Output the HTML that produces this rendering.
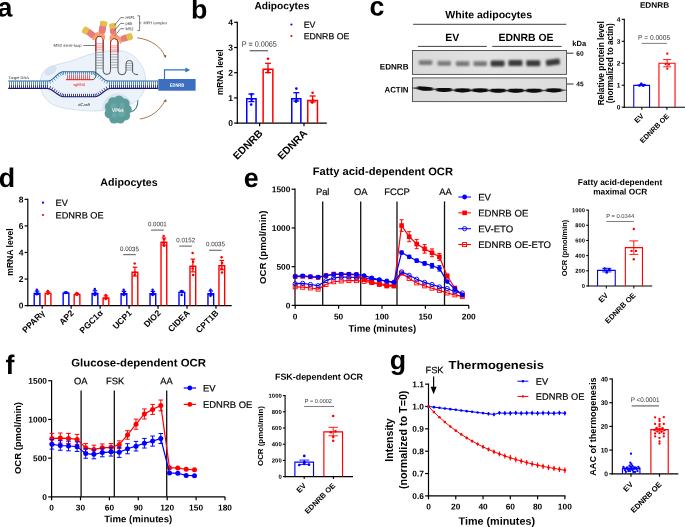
<!DOCTYPE html>
<html lang="en"><head><meta charset="utf-8"><title>Figure</title>
<style>html,body{margin:0;padding:0;background:#fff}svg{display:block}text{font-family:"Liberation Sans",Arial,sans-serif}</style></head>
<body>
<svg width="685" height="527" viewBox="0 0 685 527">
<rect width="685" height="527" fill="#fff"/>
<text x="191.10" y="18.45" font-size="26.8" font-weight="bold" transform="rotate(0.04 191.10 18.45)">b</text>
<text x="281.90" y="9.22" font-size="10.4" font-weight="bold" text-anchor="middle" transform="rotate(0.04 281.90 9.22)" textLength="54.8" lengthAdjust="spacingAndGlyphs">Adipocytes</text>
<line x1="237.30" y1="21.70" x2="237.30" y2="123.70" stroke="#000000" stroke-width="1.2"/>
<line x1="236.70" y1="123.10" x2="326.80" y2="123.10" stroke="#000000" stroke-width="1.2"/>
<line x1="234.10" y1="123.10" x2="237.30" y2="123.10" stroke="#000000" stroke-width="1.2"/>
<text x="232.90" y="126.14" font-size="8.5" font-weight="bold" text-anchor="end" transform="rotate(0.04 232.90 126.14)">0</text>
<line x1="234.10" y1="97.90" x2="237.30" y2="97.90" stroke="#000000" stroke-width="1.2"/>
<text x="232.90" y="100.94" font-size="8.5" font-weight="bold" text-anchor="end" transform="rotate(0.04 232.90 100.94)">1</text>
<line x1="234.10" y1="72.70" x2="237.30" y2="72.70" stroke="#000000" stroke-width="1.2"/>
<text x="232.90" y="75.74" font-size="8.5" font-weight="bold" text-anchor="end" transform="rotate(0.04 232.90 75.74)">2</text>
<line x1="234.10" y1="47.50" x2="237.30" y2="47.50" stroke="#000000" stroke-width="1.2"/>
<text x="232.90" y="50.54" font-size="8.5" font-weight="bold" text-anchor="end" transform="rotate(0.04 232.90 50.54)">3</text>
<line x1="234.10" y1="22.30" x2="237.30" y2="22.30" stroke="#000000" stroke-width="1.2"/>
<text x="232.90" y="25.34" font-size="8.5" font-weight="bold" text-anchor="end" transform="rotate(0.04 232.90 25.34)">4</text>
<line x1="259.60" y1="123.10" x2="259.60" y2="126.30" stroke="#000000" stroke-width="1.2"/>
<line x1="304.00" y1="123.10" x2="304.00" y2="126.30" stroke="#000000" stroke-width="1.2"/>
<text x="223.34" y="72.20" font-size="8.5" text-anchor="middle" transform="rotate(-90 223.34 72.20)" font-weight="bold" textLength="45.5" lengthAdjust="spacingAndGlyphs">mRNA level</text>
<path d="M246.75 123.10V98.75H256.05V123.10" fill="none" stroke="#0000ff" stroke-width="1.5"/>
<path d="M263.15 123.10V69.15H272.85V123.10" fill="none" stroke="#ff0000" stroke-width="1.5"/>
<path d="M291.75 123.10V98.75H300.85V123.10" fill="none" stroke="#0000ff" stroke-width="1.5"/>
<path d="M307.75 123.10V100.55H317.45V123.10" fill="none" stroke="#ff0000" stroke-width="1.5"/>
<line x1="251.40" y1="94.00" x2="251.40" y2="101.60" stroke="#0000ff" stroke-width="1.3"/>
<line x1="248.40" y1="94.00" x2="254.40" y2="94.00" stroke="#0000ff" stroke-width="1.3"/>
<line x1="248.40" y1="101.60" x2="254.40" y2="101.60" stroke="#0000ff" stroke-width="1.3"/>
<line x1="268.00" y1="63.30" x2="268.00" y2="72.60" stroke="#ff0000" stroke-width="1.3"/>
<line x1="265.00" y1="63.30" x2="271.00" y2="63.30" stroke="#ff0000" stroke-width="1.3"/>
<line x1="265.00" y1="72.60" x2="271.00" y2="72.60" stroke="#ff0000" stroke-width="1.3"/>
<line x1="296.30" y1="92.70" x2="296.30" y2="101.00" stroke="#0000ff" stroke-width="1.3"/>
<line x1="293.30" y1="92.70" x2="299.30" y2="92.70" stroke="#0000ff" stroke-width="1.3"/>
<line x1="293.30" y1="101.00" x2="299.30" y2="101.00" stroke="#0000ff" stroke-width="1.3"/>
<line x1="312.60" y1="96.00" x2="312.60" y2="102.00" stroke="#ff0000" stroke-width="1.3"/>
<line x1="309.60" y1="96.00" x2="315.60" y2="96.00" stroke="#ff0000" stroke-width="1.3"/>
<line x1="309.60" y1="102.00" x2="315.60" y2="102.00" stroke="#ff0000" stroke-width="1.3"/>
<circle cx="251.40" cy="94.40" r="1.3" fill="#0000ff" stroke="none" stroke-width="1"/>
<circle cx="251.80" cy="99.40" r="1.3" fill="#0000ff" stroke="none" stroke-width="1"/>
<circle cx="251.20" cy="104.60" r="1.3" fill="#0000ff" stroke="none" stroke-width="1"/>
<circle cx="268.00" cy="58.70" r="1.3" fill="#ff0000" stroke="none" stroke-width="1"/>
<circle cx="268.30" cy="70.00" r="1.3" fill="#ff0000" stroke="none" stroke-width="1"/>
<circle cx="267.80" cy="72.30" r="1.3" fill="#ff0000" stroke="none" stroke-width="1"/>
<circle cx="296.30" cy="88.60" r="1.3" fill="#0000ff" stroke="none" stroke-width="1"/>
<circle cx="296.60" cy="100.20" r="1.3" fill="#0000ff" stroke="none" stroke-width="1"/>
<circle cx="296.00" cy="101.80" r="1.3" fill="#0000ff" stroke="none" stroke-width="1"/>
<circle cx="312.60" cy="92.70" r="1.3" fill="#ff0000" stroke="none" stroke-width="1"/>
<circle cx="312.90" cy="100.30" r="1.3" fill="#ff0000" stroke="none" stroke-width="1"/>
<circle cx="312.20" cy="102.60" r="1.3" fill="#ff0000" stroke="none" stroke-width="1"/>
<text x="259.30" y="46.86" font-size="8.0" text-anchor="middle" transform="rotate(0.04 259.30 46.86)" fill="#333" textLength="35.2" lengthAdjust="spacingAndGlyphs">P = 0.0065</text>
<line x1="249.70" y1="50.70" x2="268.10" y2="50.70" stroke="#6a6a6a" stroke-width="1.3"/>
<circle cx="291.40" cy="24.50" r="1.1" fill="#0000ff" stroke="none" stroke-width="1"/>
<circle cx="291.40" cy="36.00" r="1.1" fill="#ff0000" stroke="none" stroke-width="1"/>
<text x="303.70" y="27.75" font-size="8.8" transform="rotate(0.04 303.70 27.75)" stroke="#000000" stroke-width="0.18">EV</text>
<text x="303.70" y="39.25" font-size="8.8" transform="rotate(0.04 303.70 39.25)" textLength="45.6" lengthAdjust="spacingAndGlyphs" stroke="#000000" stroke-width="0.18">EDNRB OE</text>
<text x="263.40" y="134.00" font-size="10.45" font-weight="bold" text-anchor="end" transform="rotate(-45 263.40 134.00)">EDNRB</text>
<text x="307.90" y="134.00" font-size="10.45" font-weight="bold" text-anchor="end" transform="rotate(-45 307.90 134.00)">EDNRA</text>
<text x="369.60" y="15.55" font-size="26.8" font-weight="bold" transform="rotate(0.04 369.60 15.55)">c</text>
<text x="488.70" y="18.16" font-size="10.5" font-weight="bold" text-anchor="middle" transform="rotate(0.04 488.70 18.16)" textLength="86.8" lengthAdjust="spacingAndGlyphs">White adipocytes</text>
<line x1="413.10" y1="24.30" x2="566.30" y2="24.30" stroke="#2a2a2a" stroke-width="0.9"/>
<text x="452.20" y="40.96" font-size="10.5" font-weight="bold" text-anchor="middle" transform="rotate(0.04 452.20 40.96)">EV</text>
<text x="526.00" y="40.96" font-size="10.5" font-weight="bold" text-anchor="middle" transform="rotate(0.04 526.00 40.96)" textLength="55.0" lengthAdjust="spacingAndGlyphs">EDNRB OE</text>
<line x1="418.00" y1="46.40" x2="486.80" y2="46.40" stroke="#2a2a2a" stroke-width="0.9"/>
<line x1="492.20" y1="46.40" x2="561.60" y2="46.40" stroke="#2a2a2a" stroke-width="0.9"/>
<defs><filter id="bl1" x="-20%" y="-60%" width="140%" height="220%"><feGaussianBlur stdDeviation="1.1 0.9"/></filter><filter id="bl2" x="-20%" y="-60%" width="140%" height="220%"><feGaussianBlur stdDeviation="0.9 0.6"/></filter><linearGradient id="blotbg" x1="0" x2="1" y1="0" y2="0"><stop offset="0" stop-color="#dadada"/><stop offset="0.5" stop-color="#e2e2e2"/><stop offset="1" stop-color="#dcdcdc"/></linearGradient></defs>
<rect x="412.50" y="50.50" width="154.00" height="23.90" fill="url(#blotbg)" stroke="#4a4a4a" stroke-width="0.9"/>
<rect x="412.50" y="77.90" width="154.00" height="23.70" fill="url(#blotbg)" stroke="#4a4a4a" stroke-width="0.9"/>
<g filter="url(#bl1)">
<rect x="418.80" y="59.90" width="13.60" height="4.90" fill="#858585" stroke="none" stroke-width="1" rx="1.2"/>
<rect x="419.40" y="62.60" width="12.40" height="1.90" fill="#6a6a6a" stroke="none" stroke-width="1" rx="0.8"/>
<rect x="437.40" y="60.70" width="13.60" height="4.90" fill="#858585" stroke="none" stroke-width="1" rx="1.2"/>
<rect x="438.00" y="63.40" width="12.40" height="1.90" fill="#6a6a6a" stroke="none" stroke-width="1" rx="0.8"/>
<rect x="455.80" y="61.10" width="13.60" height="4.90" fill="#858585" stroke="none" stroke-width="1" rx="1.2"/>
<rect x="456.40" y="63.80" width="12.40" height="1.90" fill="#6a6a6a" stroke="none" stroke-width="1" rx="0.8"/>
<rect x="473.40" y="61.10" width="13.60" height="4.90" fill="#858585" stroke="none" stroke-width="1" rx="1.2"/>
<rect x="474.00" y="63.80" width="12.40" height="1.90" fill="#6a6a6a" stroke="none" stroke-width="1" rx="0.8"/>
<rect x="490.60" y="60.50" width="14.00" height="6.00" fill="#3a3a3a" stroke="none" stroke-width="1" rx="1.4"/>
<rect x="508.40" y="60.10" width="14.00" height="6.00" fill="#3a3a3a" stroke="none" stroke-width="1" rx="1.4"/>
<rect x="526.30" y="60.20" width="14.00" height="6.00" fill="#3a3a3a" stroke="none" stroke-width="1" rx="1.4"/>
<rect x="545.90" y="59.30" width="14.00" height="6.00" fill="#3a3a3a" stroke="none" stroke-width="1" rx="1.4" transform="rotate(-8 552.9 62.2)"/>
</g>
<g filter="url(#bl2)">
<polyline fill="none" stroke="#4a4a4a" stroke-width="1.3" stroke-linejoin="round" points="412.80,88.00 424.90,88.70 444.00,89.90 462.60,90.40 480.20,90.40 498.00,90.70 515.90,90.70 534.00,90.70 553.90,90.40 566.00,90.20"/>
<rect x="416.9" y="86.8" width="16" height="3.4" rx="1.7" fill="#0a0a0a" transform="rotate(5 424.9 88.5)"/>
<ellipse cx="424.9" cy="88.8" rx="5.5" ry="2.0" fill="#0a0a0a"/>
<rect x="436.0" y="88.0" width="16" height="3.4" rx="1.7" fill="#0a0a0a"/>
<ellipse cx="444.0" cy="90.0" rx="5.5" ry="2.0" fill="#0a0a0a"/>
<rect x="454.6" y="88.5" width="16" height="3.4" rx="1.7" fill="#0a0a0a"/>
<ellipse cx="462.6" cy="90.5" rx="5.5" ry="2.0" fill="#0a0a0a"/>
<rect x="472.2" y="88.5" width="16" height="3.4" rx="1.7" fill="#0a0a0a"/>
<ellipse cx="480.2" cy="90.5" rx="5.5" ry="2.0" fill="#0a0a0a"/>
<rect x="490.0" y="88.8" width="16" height="3.4" rx="1.7" fill="#0a0a0a"/>
<ellipse cx="498.0" cy="90.8" rx="5.5" ry="2.0" fill="#0a0a0a"/>
<rect x="507.9" y="88.8" width="16" height="3.4" rx="1.7" fill="#0a0a0a"/>
<ellipse cx="515.9" cy="90.8" rx="5.5" ry="2.0" fill="#0a0a0a"/>
<rect x="526.0" y="88.8" width="16" height="3.4" rx="1.7" fill="#0a0a0a"/>
<ellipse cx="534.0" cy="90.8" rx="5.5" ry="2.0" fill="#0a0a0a"/>
<rect x="545.9" y="88.5" width="16" height="3.4" rx="1.7" fill="#0a0a0a"/>
<ellipse cx="553.9" cy="90.5" rx="5.5" ry="2.0" fill="#0a0a0a"/>
</g>
<text x="408.50" y="69.50" font-size="8.1" font-weight="bold" text-anchor="end" transform="rotate(0.04 408.50 69.50)" textLength="28.7" lengthAdjust="spacingAndGlyphs">EDNRB</text>
<text x="408.50" y="92.50" font-size="8.1" font-weight="bold" text-anchor="end" transform="rotate(0.04 408.50 92.50)" textLength="24.0" lengthAdjust="spacingAndGlyphs">ACTIN</text>
<text x="572.30" y="45.92" font-size="7.6" font-weight="bold" transform="rotate(0.04 572.30 45.92)" textLength="13.8" lengthAdjust="spacingAndGlyphs">kDa</text>
<line x1="567.00" y1="53.20" x2="573.50" y2="53.20" stroke="#1a1a1a" stroke-width="0.9"/>
<line x1="567.00" y1="84.00" x2="573.50" y2="84.00" stroke="#1a1a1a" stroke-width="0.9"/>
<text x="576.30" y="55.76" font-size="6.6" font-weight="bold" transform="rotate(0.04 576.30 55.76)">60</text>
<text x="576.30" y="86.36" font-size="6.6" font-weight="bold" transform="rotate(0.04 576.30 86.36)">45</text>
<text x="654.50" y="7.68" font-size="7.9" font-weight="bold" text-anchor="middle" transform="rotate(0.04 654.50 7.68)" textLength="29.2" lengthAdjust="spacingAndGlyphs">EDNRB</text>
<line x1="624.30" y1="18.77" x2="624.30" y2="107.75" stroke="#000000" stroke-width="1.1"/>
<line x1="623.75" y1="107.20" x2="685.00" y2="107.20" stroke="#000000" stroke-width="1.1"/>
<line x1="621.70" y1="107.20" x2="624.30" y2="107.20" stroke="#000000" stroke-width="1.1"/>
<text x="620.50" y="109.56" font-size="6.6" font-weight="bold" text-anchor="end" transform="rotate(0.04 620.50 109.56)">0</text>
<line x1="621.70" y1="85.23" x2="624.30" y2="85.23" stroke="#000000" stroke-width="1.1"/>
<text x="620.50" y="87.59" font-size="6.6" font-weight="bold" text-anchor="end" transform="rotate(0.04 620.50 87.59)">1</text>
<line x1="621.70" y1="63.26" x2="624.30" y2="63.26" stroke="#000000" stroke-width="1.1"/>
<text x="620.50" y="65.62" font-size="6.6" font-weight="bold" text-anchor="end" transform="rotate(0.04 620.50 65.62)">2</text>
<line x1="621.70" y1="41.29" x2="624.30" y2="41.29" stroke="#000000" stroke-width="1.1"/>
<text x="620.50" y="43.65" font-size="6.6" font-weight="bold" text-anchor="end" transform="rotate(0.04 620.50 43.65)">3</text>
<line x1="621.70" y1="19.32" x2="624.30" y2="19.32" stroke="#000000" stroke-width="1.1"/>
<text x="620.50" y="21.68" font-size="6.6" font-weight="bold" text-anchor="end" transform="rotate(0.04 620.50 21.68)">4</text>
<line x1="641.80" y1="107.20" x2="641.80" y2="109.70" stroke="#000000" stroke-width="1.1"/>
<line x1="666.90" y1="107.20" x2="666.90" y2="109.70" stroke="#000000" stroke-width="1.1"/>
<text x="604.04" y="63.20" font-size="8.5" text-anchor="middle" transform="rotate(-90 604.04 63.20)" font-weight="bold" textLength="84.0" lengthAdjust="spacingAndGlyphs">Relative protein level</text>
<text x="613.44" y="63.20" font-size="8.5" text-anchor="middle" transform="rotate(-90 613.44 63.20)" font-weight="bold" textLength="80.0" lengthAdjust="spacingAndGlyphs">(normalized to actin)</text>
<path d="M633.75 107.20V85.35H649.55V107.20" fill="none" stroke="#0000ff" stroke-width="1.1"/>
<path d="M658.95 107.20V63.25H675.05V107.20" fill="none" stroke="#ff0000" stroke-width="1.1"/>
<line x1="667.20" y1="59.60" x2="667.20" y2="66.80" stroke="#ff0000" stroke-width="0.9"/>
<line x1="663.20" y1="59.60" x2="671.20" y2="59.60" stroke="#ff0000" stroke-width="0.9"/>
<line x1="663.20" y1="66.80" x2="671.20" y2="66.80" stroke="#ff0000" stroke-width="0.9"/>
<line x1="637.60" y1="85.00" x2="646.00" y2="85.00" stroke="#0000ff" stroke-width="0.9"/>
<circle cx="639.50" cy="85.60" r="1.45" fill="#0000ff" stroke="none" stroke-width="1"/>
<circle cx="641.30" cy="83.90" r="1.45" fill="#0000ff" stroke="none" stroke-width="1"/>
<circle cx="643.00" cy="85.60" r="1.45" fill="#0000ff" stroke="none" stroke-width="1"/>
<circle cx="644.30" cy="85.10" r="1.45" fill="#0000ff" stroke="none" stroke-width="1"/>
<circle cx="667.30" cy="53.70" r="1.15" fill="#ff0000" stroke="none" stroke-width="1"/>
<circle cx="665.60" cy="64.10" r="1.15" fill="#ff0000" stroke="none" stroke-width="1"/>
<circle cx="669.00" cy="64.50" r="1.15" fill="#ff0000" stroke="none" stroke-width="1"/>
<circle cx="667.30" cy="68.70" r="1.15" fill="#ff0000" stroke="none" stroke-width="1"/>
<text x="654.10" y="39.80" font-size="6.7" text-anchor="middle" transform="rotate(0.04 654.10 39.80)" fill="#333" textLength="32.1" lengthAdjust="spacingAndGlyphs">P = 0.0005</text>
<line x1="641.60" y1="43.40" x2="667.00" y2="43.40" stroke="#3a3a3a" stroke-width="0.65"/>
<text x="644.30" y="116.60" font-size="7.4" font-weight="bold" text-anchor="end" transform="rotate(-45 644.30 116.60)">EV</text>
<text x="669.70" y="116.60" font-size="7.2" font-weight="bold" text-anchor="end" transform="rotate(-45 669.70 116.60)">EDNRB OE</text>
<text x="-1.20" y="186.90" font-size="26.8" font-weight="bold" transform="rotate(0.04 -1.20 186.90)">d</text>
<text x="129.00" y="185.89" font-size="10.6" font-weight="bold" text-anchor="middle" transform="rotate(0.04 129.00 185.89)" textLength="57.3" lengthAdjust="spacingAndGlyphs">Adipocytes</text>
<line x1="27.80" y1="198.76" x2="27.80" y2="306.20" stroke="#000000" stroke-width="1.2"/>
<line x1="27.20" y1="305.60" x2="231.70" y2="305.60" stroke="#000000" stroke-width="1.2"/>
<line x1="24.60" y1="305.60" x2="27.80" y2="305.60" stroke="#000000" stroke-width="1.2"/>
<text x="23.40" y="308.64" font-size="8.5" font-weight="bold" text-anchor="end" transform="rotate(0.04 23.40 308.64)">0</text>
<line x1="24.60" y1="279.04" x2="27.80" y2="279.04" stroke="#000000" stroke-width="1.2"/>
<text x="23.40" y="282.08" font-size="8.5" font-weight="bold" text-anchor="end" transform="rotate(0.04 23.40 282.08)">2</text>
<line x1="24.60" y1="252.48" x2="27.80" y2="252.48" stroke="#000000" stroke-width="1.2"/>
<text x="23.40" y="255.52" font-size="8.5" font-weight="bold" text-anchor="end" transform="rotate(0.04 23.40 255.52)">4</text>
<line x1="24.60" y1="225.92" x2="27.80" y2="225.92" stroke="#000000" stroke-width="1.2"/>
<text x="23.40" y="228.96" font-size="8.5" font-weight="bold" text-anchor="end" transform="rotate(0.04 23.40 228.96)">6</text>
<line x1="24.60" y1="199.36" x2="27.80" y2="199.36" stroke="#000000" stroke-width="1.2"/>
<text x="23.40" y="202.40" font-size="8.5" font-weight="bold" text-anchor="end" transform="rotate(0.04 23.40 202.40)">8</text>
<text x="13.28" y="252.00" font-size="8.6" text-anchor="middle" transform="rotate(-90 13.28 252.00)" font-weight="bold" textLength="47.5" lengthAdjust="spacingAndGlyphs">mRNA level</text>
<circle cx="43.00" cy="202.70" r="1.1" fill="#0000ff" stroke="none" stroke-width="1"/>
<circle cx="43.00" cy="215.00" r="1.1" fill="#ff0000" stroke="none" stroke-width="1"/>
<text x="55.60" y="206.09" font-size="9.2" transform="rotate(0.04 55.60 206.09)" stroke="#000000" stroke-width="0.18">EV</text>
<text x="55.60" y="218.39" font-size="9.2" transform="rotate(0.04 55.60 218.39)" textLength="48.0" lengthAdjust="spacingAndGlyphs" stroke="#000000" stroke-width="0.18">EDNRB OE</text>
<line x1="42.20" y1="305.60" x2="42.20" y2="308.80" stroke="#000000" stroke-width="1.2"/>
<path d="M34.20 305.60V293.42H39.90V305.60" fill="none" stroke="#0000ff" stroke-width="1.4"/>
<path d="M45.20 305.60V293.42H50.90V305.60" fill="none" stroke="#ff0000" stroke-width="1.4"/>
<line x1="37.05" y1="291.12" x2="37.05" y2="294.31" stroke="#0000ff" stroke-width="1.2"/>
<line x1="34.75" y1="291.12" x2="39.35" y2="291.12" stroke="#0000ff" stroke-width="1.2"/>
<line x1="34.75" y1="294.31" x2="39.35" y2="294.31" stroke="#0000ff" stroke-width="1.2"/>
<line x1="48.05" y1="291.92" x2="48.05" y2="293.52" stroke="#ff0000" stroke-width="1.2"/>
<line x1="45.75" y1="291.92" x2="50.35" y2="291.92" stroke="#ff0000" stroke-width="1.2"/>
<line x1="45.75" y1="293.52" x2="50.35" y2="293.52" stroke="#ff0000" stroke-width="1.2"/>
<circle cx="36.80" cy="289.66" r="1.25" fill="#0000ff" stroke="none" stroke-width="1"/>
<circle cx="37.30" cy="292.98" r="1.25" fill="#0000ff" stroke="none" stroke-width="1"/>
<circle cx="36.80" cy="294.31" r="1.25" fill="#0000ff" stroke="none" stroke-width="1"/>
<circle cx="47.80" cy="290.99" r="1.25" fill="#ff0000" stroke="none" stroke-width="1"/>
<circle cx="48.30" cy="292.98" r="1.25" fill="#ff0000" stroke="none" stroke-width="1"/>
<circle cx="47.80" cy="293.65" r="1.25" fill="#ff0000" stroke="none" stroke-width="1"/>
<text x="45.50" y="313.60" font-size="8.6" font-weight="bold" text-anchor="end" transform="rotate(-45 45.50 313.60)">PPARγ</text>
<line x1="71.16" y1="305.60" x2="71.16" y2="308.80" stroke="#000000" stroke-width="1.2"/>
<path d="M63.16 305.60V293.29H68.86V305.60" fill="none" stroke="#0000ff" stroke-width="1.4"/>
<path d="M74.16 305.60V294.61H79.86V305.60" fill="none" stroke="#ff0000" stroke-width="1.4"/>
<line x1="66.01" y1="292.19" x2="66.01" y2="292.98" stroke="#0000ff" stroke-width="1.2"/>
<line x1="63.71" y1="292.19" x2="68.31" y2="292.19" stroke="#0000ff" stroke-width="1.2"/>
<line x1="63.71" y1="292.98" x2="68.31" y2="292.98" stroke="#0000ff" stroke-width="1.2"/>
<line x1="77.01" y1="293.38" x2="77.01" y2="294.44" stroke="#ff0000" stroke-width="1.2"/>
<line x1="74.71" y1="293.38" x2="79.31" y2="293.38" stroke="#ff0000" stroke-width="1.2"/>
<line x1="74.71" y1="294.44" x2="79.31" y2="294.44" stroke="#ff0000" stroke-width="1.2"/>
<circle cx="65.76" cy="292.32" r="1.25" fill="#0000ff" stroke="none" stroke-width="1"/>
<circle cx="66.26" cy="292.72" r="1.25" fill="#0000ff" stroke="none" stroke-width="1"/>
<circle cx="65.76" cy="292.98" r="1.25" fill="#0000ff" stroke="none" stroke-width="1"/>
<circle cx="76.76" cy="292.98" r="1.25" fill="#ff0000" stroke="none" stroke-width="1"/>
<circle cx="77.26" cy="293.91" r="1.25" fill="#ff0000" stroke="none" stroke-width="1"/>
<circle cx="76.76" cy="294.71" r="1.25" fill="#ff0000" stroke="none" stroke-width="1"/>
<text x="74.46" y="313.60" font-size="8.6" font-weight="bold" text-anchor="end" transform="rotate(-45 74.46 313.60)">AP2</text>
<line x1="100.12" y1="305.60" x2="100.12" y2="308.80" stroke="#000000" stroke-width="1.2"/>
<path d="M92.12 305.60V293.42H97.82V305.60" fill="none" stroke="#0000ff" stroke-width="1.4"/>
<path d="M103.12 305.60V297.93H108.82V305.60" fill="none" stroke="#ff0000" stroke-width="1.4"/>
<line x1="94.97" y1="290.73" x2="94.97" y2="294.71" stroke="#0000ff" stroke-width="1.2"/>
<line x1="92.67" y1="290.73" x2="97.27" y2="290.73" stroke="#0000ff" stroke-width="1.2"/>
<line x1="92.67" y1="294.71" x2="97.27" y2="294.71" stroke="#0000ff" stroke-width="1.2"/>
<line x1="105.97" y1="295.91" x2="105.97" y2="298.56" stroke="#ff0000" stroke-width="1.2"/>
<line x1="103.67" y1="295.91" x2="108.27" y2="295.91" stroke="#ff0000" stroke-width="1.2"/>
<line x1="103.67" y1="298.56" x2="108.27" y2="298.56" stroke="#ff0000" stroke-width="1.2"/>
<circle cx="94.72" cy="289.00" r="1.25" fill="#0000ff" stroke="none" stroke-width="1"/>
<circle cx="95.22" cy="292.98" r="1.25" fill="#0000ff" stroke="none" stroke-width="1"/>
<circle cx="94.72" cy="294.98" r="1.25" fill="#0000ff" stroke="none" stroke-width="1"/>
<circle cx="105.72" cy="294.98" r="1.25" fill="#ff0000" stroke="none" stroke-width="1"/>
<circle cx="106.22" cy="297.63" r="1.25" fill="#ff0000" stroke="none" stroke-width="1"/>
<circle cx="105.72" cy="298.96" r="1.25" fill="#ff0000" stroke="none" stroke-width="1"/>
<text x="103.42" y="313.60" font-size="8.6" font-weight="bold" text-anchor="end" transform="rotate(-45 103.42 313.60)">PGC1α</text>
<line x1="129.08" y1="305.60" x2="129.08" y2="308.80" stroke="#000000" stroke-width="1.2"/>
<path d="M121.08 305.60V293.68H126.78V305.60" fill="none" stroke="#0000ff" stroke-width="1.4"/>
<path d="M132.08 305.60V272.30H137.78V305.60" fill="none" stroke="#ff0000" stroke-width="1.4"/>
<line x1="123.93" y1="291.39" x2="123.93" y2="294.58" stroke="#0000ff" stroke-width="1.2"/>
<line x1="121.63" y1="291.39" x2="126.23" y2="291.39" stroke="#0000ff" stroke-width="1.2"/>
<line x1="121.63" y1="294.58" x2="126.23" y2="294.58" stroke="#0000ff" stroke-width="1.2"/>
<line x1="134.93" y1="267.22" x2="134.93" y2="275.99" stroke="#ff0000" stroke-width="1.2"/>
<line x1="132.63" y1="267.22" x2="137.23" y2="267.22" stroke="#ff0000" stroke-width="1.2"/>
<line x1="132.63" y1="275.99" x2="137.23" y2="275.99" stroke="#ff0000" stroke-width="1.2"/>
<circle cx="123.68" cy="289.66" r="1.25" fill="#0000ff" stroke="none" stroke-width="1"/>
<circle cx="124.18" cy="292.98" r="1.25" fill="#0000ff" stroke="none" stroke-width="1"/>
<circle cx="123.68" cy="294.98" r="1.25" fill="#0000ff" stroke="none" stroke-width="1"/>
<circle cx="134.68" cy="263.50" r="1.25" fill="#ff0000" stroke="none" stroke-width="1"/>
<circle cx="135.18" cy="272.40" r="1.25" fill="#ff0000" stroke="none" stroke-width="1"/>
<circle cx="134.68" cy="275.06" r="1.25" fill="#ff0000" stroke="none" stroke-width="1"/>
<text x="129.48" y="251.13" font-size="6.5" text-anchor="middle" transform="rotate(0.04 129.48 251.13)" fill="#2a2a2a" textLength="18.8" lengthAdjust="spacingAndGlyphs">0.0035</text>
<line x1="123.13" y1="254.60" x2="135.83" y2="254.60" stroke="#757575" stroke-width="1.2"/>
<text x="132.38" y="313.60" font-size="8.6" font-weight="bold" text-anchor="end" transform="rotate(-45 132.38 313.60)">UCP1</text>
<line x1="158.04" y1="305.60" x2="158.04" y2="308.80" stroke="#000000" stroke-width="1.2"/>
<path d="M150.04 305.60V293.68H155.74V305.60" fill="none" stroke="#0000ff" stroke-width="1.4"/>
<path d="M161.04 305.60V242.29H166.74V305.60" fill="none" stroke="#ff0000" stroke-width="1.4"/>
<line x1="152.89" y1="291.39" x2="152.89" y2="294.58" stroke="#0000ff" stroke-width="1.2"/>
<line x1="150.59" y1="291.39" x2="155.19" y2="291.39" stroke="#0000ff" stroke-width="1.2"/>
<line x1="150.59" y1="294.58" x2="155.19" y2="294.58" stroke="#0000ff" stroke-width="1.2"/>
<line x1="163.89" y1="238.00" x2="163.89" y2="245.18" stroke="#ff0000" stroke-width="1.2"/>
<line x1="161.59" y1="238.00" x2="166.19" y2="238.00" stroke="#ff0000" stroke-width="1.2"/>
<line x1="161.59" y1="245.18" x2="166.19" y2="245.18" stroke="#ff0000" stroke-width="1.2"/>
<circle cx="152.64" cy="289.66" r="1.25" fill="#0000ff" stroke="none" stroke-width="1"/>
<circle cx="153.14" cy="292.98" r="1.25" fill="#0000ff" stroke="none" stroke-width="1"/>
<circle cx="152.64" cy="294.98" r="1.25" fill="#0000ff" stroke="none" stroke-width="1"/>
<circle cx="163.64" cy="235.88" r="1.25" fill="#ff0000" stroke="none" stroke-width="1"/>
<circle cx="164.14" cy="239.20" r="1.25" fill="#ff0000" stroke="none" stroke-width="1"/>
<circle cx="163.64" cy="243.18" r="1.25" fill="#ff0000" stroke="none" stroke-width="1"/>
<circle cx="164.14" cy="245.84" r="1.25" fill="#ff0000" stroke="none" stroke-width="1"/>
<text x="157.34" y="226.23" font-size="6.5" text-anchor="middle" transform="rotate(0.04 157.34 226.23)" fill="#2a2a2a" textLength="18.8" lengthAdjust="spacingAndGlyphs">0.0001</text>
<line x1="151.04" y1="230.10" x2="163.74" y2="230.10" stroke="#757575" stroke-width="1.2"/>
<text x="161.34" y="313.60" font-size="8.6" font-weight="bold" text-anchor="end" transform="rotate(-45 161.34 313.60)">DIO2</text>
<line x1="187.00" y1="305.60" x2="187.00" y2="308.80" stroke="#000000" stroke-width="1.2"/>
<path d="M179.00 305.60V292.36H184.70V305.60" fill="none" stroke="#0000ff" stroke-width="1.4"/>
<path d="M190.00 305.60V266.19H195.70V305.60" fill="none" stroke="#ff0000" stroke-width="1.4"/>
<line x1="181.85" y1="290.99" x2="181.85" y2="292.32" stroke="#0000ff" stroke-width="1.2"/>
<line x1="179.55" y1="290.99" x2="184.15" y2="290.99" stroke="#0000ff" stroke-width="1.2"/>
<line x1="179.55" y1="292.32" x2="184.15" y2="292.32" stroke="#0000ff" stroke-width="1.2"/>
<line x1="192.85" y1="259.12" x2="192.85" y2="271.87" stroke="#ff0000" stroke-width="1.2"/>
<line x1="190.55" y1="259.12" x2="195.15" y2="259.12" stroke="#ff0000" stroke-width="1.2"/>
<line x1="190.55" y1="271.87" x2="195.15" y2="271.87" stroke="#ff0000" stroke-width="1.2"/>
<circle cx="181.60" cy="290.99" r="1.25" fill="#0000ff" stroke="none" stroke-width="1"/>
<circle cx="182.10" cy="292.32" r="1.25" fill="#0000ff" stroke="none" stroke-width="1"/>
<circle cx="181.60" cy="294.98" r="1.25" fill="#0000ff" stroke="none" stroke-width="1"/>
<circle cx="192.60" cy="252.88" r="1.25" fill="#ff0000" stroke="none" stroke-width="1"/>
<circle cx="193.10" cy="261.78" r="1.25" fill="#ff0000" stroke="none" stroke-width="1"/>
<circle cx="192.60" cy="268.42" r="1.25" fill="#ff0000" stroke="none" stroke-width="1"/>
<circle cx="193.10" cy="275.06" r="1.25" fill="#ff0000" stroke="none" stroke-width="1"/>
<text x="185.70" y="242.33" font-size="6.5" text-anchor="middle" transform="rotate(0.04 185.70 242.33)" fill="#2a2a2a" textLength="18.8" lengthAdjust="spacingAndGlyphs">0.0152</text>
<line x1="179.20" y1="246.10" x2="191.90" y2="246.10" stroke="#757575" stroke-width="1.2"/>
<text x="190.30" y="313.60" font-size="8.6" font-weight="bold" text-anchor="end" transform="rotate(-45 190.30 313.60)">CIDEA</text>
<line x1="215.96" y1="305.60" x2="215.96" y2="308.80" stroke="#000000" stroke-width="1.2"/>
<path d="M207.96 305.60V293.68H213.66V305.60" fill="none" stroke="#0000ff" stroke-width="1.4"/>
<path d="M218.96 305.60V265.80H224.66V305.60" fill="none" stroke="#ff0000" stroke-width="1.4"/>
<line x1="210.81" y1="290.99" x2="210.81" y2="294.98" stroke="#0000ff" stroke-width="1.2"/>
<line x1="208.51" y1="290.99" x2="213.11" y2="290.99" stroke="#0000ff" stroke-width="1.2"/>
<line x1="208.51" y1="294.98" x2="213.11" y2="294.98" stroke="#0000ff" stroke-width="1.2"/>
<line x1="221.81" y1="260.45" x2="221.81" y2="269.74" stroke="#ff0000" stroke-width="1.2"/>
<line x1="219.51" y1="260.45" x2="224.11" y2="260.45" stroke="#ff0000" stroke-width="1.2"/>
<line x1="219.51" y1="269.74" x2="224.11" y2="269.74" stroke="#ff0000" stroke-width="1.2"/>
<circle cx="210.56" cy="289.66" r="1.25" fill="#0000ff" stroke="none" stroke-width="1"/>
<circle cx="211.06" cy="293.65" r="1.25" fill="#0000ff" stroke="none" stroke-width="1"/>
<circle cx="210.56" cy="295.64" r="1.25" fill="#0000ff" stroke="none" stroke-width="1"/>
<circle cx="221.56" cy="257.13" r="1.25" fill="#ff0000" stroke="none" stroke-width="1"/>
<circle cx="222.06" cy="263.10" r="1.25" fill="#ff0000" stroke="none" stroke-width="1"/>
<circle cx="221.56" cy="268.42" r="1.25" fill="#ff0000" stroke="none" stroke-width="1"/>
<circle cx="222.06" cy="272.40" r="1.25" fill="#ff0000" stroke="none" stroke-width="1"/>
<text x="215.46" y="246.33" font-size="6.5" text-anchor="middle" transform="rotate(0.04 215.46 246.33)" fill="#2a2a2a" textLength="18.8" lengthAdjust="spacingAndGlyphs">0.0035</text>
<line x1="209.11" y1="250.30" x2="221.81" y2="250.30" stroke="#757575" stroke-width="1.2"/>
<text x="219.26" y="313.60" font-size="8.6" font-weight="bold" text-anchor="end" transform="rotate(-45 219.26 313.60)">CPT1B</text>
<text x="243.80" y="187.05" font-size="26.8" font-weight="bold" transform="rotate(0.04 243.80 187.05)">e</text>
<text x="382.90" y="175.14" font-size="11.0" font-weight="bold" text-anchor="middle" transform="rotate(0.04 382.90 175.14)" textLength="140.2" lengthAdjust="spacingAndGlyphs">Fatty acid-dependent OCR</text>
<line x1="295.00" y1="188.61" x2="295.00" y2="306.00" stroke="#000000" stroke-width="1.2"/>
<line x1="294.40" y1="305.40" x2="469.00" y2="305.40" stroke="#000000" stroke-width="1.2"/>
<line x1="291.60" y1="305.40" x2="295.00" y2="305.40" stroke="#000000" stroke-width="1.2"/>
<text x="290.40" y="308.41" font-size="8.4" font-weight="bold" text-anchor="end" transform="rotate(0.04 290.40 308.41)">0</text>
<line x1="291.60" y1="266.67" x2="295.00" y2="266.67" stroke="#000000" stroke-width="1.2"/>
<text x="290.40" y="269.68" font-size="8.4" font-weight="bold" text-anchor="end" transform="rotate(0.04 290.40 269.68)">500</text>
<line x1="291.60" y1="227.94" x2="295.00" y2="227.94" stroke="#000000" stroke-width="1.2"/>
<text x="290.40" y="230.95" font-size="8.4" font-weight="bold" text-anchor="end" transform="rotate(0.04 290.40 230.95)">1000</text>
<line x1="291.60" y1="189.21" x2="295.00" y2="189.21" stroke="#000000" stroke-width="1.2"/>
<text x="290.40" y="192.22" font-size="8.4" font-weight="bold" text-anchor="end" transform="rotate(0.04 290.40 192.22)">1500</text>
<line x1="295.20" y1="305.40" x2="295.20" y2="308.80" stroke="#000000" stroke-width="1.2"/>
<text x="295.20" y="319.41" font-size="8.4" font-weight="bold" text-anchor="middle" transform="rotate(0.04 295.20 319.41)">0</text>
<line x1="338.60" y1="305.40" x2="338.60" y2="308.80" stroke="#000000" stroke-width="1.2"/>
<text x="338.60" y="319.41" font-size="8.4" font-weight="bold" text-anchor="middle" transform="rotate(0.04 338.60 319.41)">50</text>
<line x1="382.00" y1="305.40" x2="382.00" y2="308.80" stroke="#000000" stroke-width="1.2"/>
<text x="382.00" y="319.41" font-size="8.4" font-weight="bold" text-anchor="middle" transform="rotate(0.04 382.00 319.41)">100</text>
<line x1="425.40" y1="305.40" x2="425.40" y2="308.80" stroke="#000000" stroke-width="1.2"/>
<text x="425.40" y="319.41" font-size="8.4" font-weight="bold" text-anchor="middle" transform="rotate(0.04 425.40 319.41)">150</text>
<line x1="468.80" y1="305.40" x2="468.80" y2="308.80" stroke="#000000" stroke-width="1.2"/>
<text x="468.80" y="319.41" font-size="8.4" font-weight="bold" text-anchor="middle" transform="rotate(0.04 468.80 319.41)">200</text>
<text x="265.64" y="247.30" font-size="9.6" text-anchor="middle" transform="rotate(-90 265.64 247.30)" font-weight="bold" textLength="73.5" lengthAdjust="spacingAndGlyphs">OCR (pmol/min)</text>
<text x="382.30" y="331.74" font-size="9.6" font-weight="bold" text-anchor="middle" transform="rotate(0.04 382.30 331.74)" textLength="67.7" lengthAdjust="spacingAndGlyphs">Time (minutes)</text>
<line x1="322.70" y1="201.40" x2="322.70" y2="305.40" stroke="#111" stroke-width="1.3"/>
<text x="322.70" y="195.07" font-size="9.4" text-anchor="middle" transform="rotate(0.04 322.70 195.07)" fill="#000" stroke="#000" stroke-width="0.18">Pal</text>
<line x1="360.70" y1="201.40" x2="360.70" y2="305.40" stroke="#111" stroke-width="1.3"/>
<text x="360.70" y="195.07" font-size="9.4" text-anchor="middle" transform="rotate(0.04 360.70 195.07)" fill="#000" stroke="#000" stroke-width="0.18">OA</text>
<line x1="397.00" y1="201.40" x2="397.00" y2="305.40" stroke="#111" stroke-width="1.3"/>
<text x="397.00" y="195.07" font-size="9.4" text-anchor="middle" transform="rotate(0.04 397.00 195.07)" fill="#000" stroke="#000" stroke-width="0.18">FCCP</text>
<line x1="444.50" y1="201.40" x2="444.50" y2="305.40" stroke="#111" stroke-width="1.3"/>
<text x="445.50" y="195.07" font-size="9.4" text-anchor="middle" transform="rotate(0.04 445.50 195.07)" fill="#000" stroke="#000" stroke-width="0.18">AA</text>
<polyline fill="none" stroke="#ff0000" stroke-width="1.2" stroke-linejoin="round" points="295.20,286.81 302.70,287.20 310.40,287.97 318.10,289.13 326.00,284.49 333.70,281.77 341.20,281.00 348.90,280.61 356.40,280.61 364.10,281.39 371.80,282.55 379.30,283.71 386.80,284.87 394.00,285.65 401.60,273.18 409.20,278.44 416.70,282.94 424.60,285.88 432.00,288.20 439.40,290.37 447.20,293.01 454.90,294.87 462.30,296.41"/>
<rect x="293.20" y="284.81" width="4.00" height="4.00" fill="none" stroke="#ff0000" stroke-width="0.9"/>
<rect x="300.70" y="285.20" width="4.00" height="4.00" fill="none" stroke="#ff0000" stroke-width="0.9"/>
<rect x="308.40" y="285.97" width="4.00" height="4.00" fill="none" stroke="#ff0000" stroke-width="0.9"/>
<rect x="316.10" y="287.13" width="4.00" height="4.00" fill="none" stroke="#ff0000" stroke-width="0.9"/>
<rect x="324.00" y="282.49" width="4.00" height="4.00" fill="none" stroke="#ff0000" stroke-width="0.9"/>
<rect x="331.70" y="279.77" width="4.00" height="4.00" fill="none" stroke="#ff0000" stroke-width="0.9"/>
<rect x="339.20" y="279.00" width="4.00" height="4.00" fill="none" stroke="#ff0000" stroke-width="0.9"/>
<rect x="346.90" y="278.61" width="4.00" height="4.00" fill="none" stroke="#ff0000" stroke-width="0.9"/>
<rect x="354.40" y="278.61" width="4.00" height="4.00" fill="none" stroke="#ff0000" stroke-width="0.9"/>
<rect x="362.10" y="279.39" width="4.00" height="4.00" fill="none" stroke="#ff0000" stroke-width="0.9"/>
<rect x="369.80" y="280.55" width="4.00" height="4.00" fill="none" stroke="#ff0000" stroke-width="0.9"/>
<rect x="377.30" y="281.71" width="4.00" height="4.00" fill="none" stroke="#ff0000" stroke-width="0.9"/>
<rect x="384.80" y="282.87" width="4.00" height="4.00" fill="none" stroke="#ff0000" stroke-width="0.9"/>
<rect x="392.00" y="283.65" width="4.00" height="4.00" fill="none" stroke="#ff0000" stroke-width="0.9"/>
<rect x="399.60" y="271.18" width="4.00" height="4.00" fill="none" stroke="#ff0000" stroke-width="0.9"/>
<rect x="407.20" y="276.44" width="4.00" height="4.00" fill="none" stroke="#ff0000" stroke-width="0.9"/>
<rect x="414.70" y="280.94" width="4.00" height="4.00" fill="none" stroke="#ff0000" stroke-width="0.9"/>
<rect x="422.60" y="283.88" width="4.00" height="4.00" fill="none" stroke="#ff0000" stroke-width="0.9"/>
<rect x="430.00" y="286.20" width="4.00" height="4.00" fill="none" stroke="#ff0000" stroke-width="0.9"/>
<rect x="437.40" y="288.37" width="4.00" height="4.00" fill="none" stroke="#ff0000" stroke-width="0.9"/>
<rect x="445.20" y="291.01" width="4.00" height="4.00" fill="none" stroke="#ff0000" stroke-width="0.9"/>
<rect x="452.90" y="292.87" width="4.00" height="4.00" fill="none" stroke="#ff0000" stroke-width="0.9"/>
<rect x="460.30" y="294.41" width="4.00" height="4.00" fill="none" stroke="#ff0000" stroke-width="0.9"/>
<polyline fill="none" stroke="#0000ff" stroke-width="1.2" stroke-linejoin="round" points="295.20,283.71 302.70,283.32 310.40,284.49 318.10,285.65 326.00,280.61 333.70,277.90 341.20,277.13 348.90,277.13 356.40,277.51 364.10,278.29 371.80,279.06 379.30,279.84 386.80,281.00 394.00,282.16 401.60,271.86 409.20,275.27 416.70,279.22 424.60,282.39 432.00,284.49 439.40,286.89 447.20,288.51 454.90,291.69 462.30,293.01"/>
<circle cx="295.20" cy="283.71" r="2.1" fill="none" stroke="#0000ff" stroke-width="0.9"/>
<circle cx="302.70" cy="283.32" r="2.1" fill="none" stroke="#0000ff" stroke-width="0.9"/>
<circle cx="310.40" cy="284.49" r="2.1" fill="none" stroke="#0000ff" stroke-width="0.9"/>
<circle cx="318.10" cy="285.65" r="2.1" fill="none" stroke="#0000ff" stroke-width="0.9"/>
<circle cx="326.00" cy="280.61" r="2.1" fill="none" stroke="#0000ff" stroke-width="0.9"/>
<circle cx="333.70" cy="277.90" r="2.1" fill="none" stroke="#0000ff" stroke-width="0.9"/>
<circle cx="341.20" cy="277.13" r="2.1" fill="none" stroke="#0000ff" stroke-width="0.9"/>
<circle cx="348.90" cy="277.13" r="2.1" fill="none" stroke="#0000ff" stroke-width="0.9"/>
<circle cx="356.40" cy="277.51" r="2.1" fill="none" stroke="#0000ff" stroke-width="0.9"/>
<circle cx="364.10" cy="278.29" r="2.1" fill="none" stroke="#0000ff" stroke-width="0.9"/>
<circle cx="371.80" cy="279.06" r="2.1" fill="none" stroke="#0000ff" stroke-width="0.9"/>
<circle cx="379.30" cy="279.84" r="2.1" fill="none" stroke="#0000ff" stroke-width="0.9"/>
<circle cx="386.80" cy="281.00" r="2.1" fill="none" stroke="#0000ff" stroke-width="0.9"/>
<circle cx="394.00" cy="282.16" r="2.1" fill="none" stroke="#0000ff" stroke-width="0.9"/>
<circle cx="401.60" cy="271.86" r="2.1" fill="none" stroke="#0000ff" stroke-width="0.9"/>
<circle cx="409.20" cy="275.27" r="2.1" fill="none" stroke="#0000ff" stroke-width="0.9"/>
<circle cx="416.70" cy="279.22" r="2.1" fill="none" stroke="#0000ff" stroke-width="0.9"/>
<circle cx="424.60" cy="282.39" r="2.1" fill="none" stroke="#0000ff" stroke-width="0.9"/>
<circle cx="432.00" cy="284.49" r="2.1" fill="none" stroke="#0000ff" stroke-width="0.9"/>
<circle cx="439.40" cy="286.89" r="2.1" fill="none" stroke="#0000ff" stroke-width="0.9"/>
<circle cx="447.20" cy="288.51" r="2.1" fill="none" stroke="#0000ff" stroke-width="0.9"/>
<circle cx="454.90" cy="291.69" r="2.1" fill="none" stroke="#0000ff" stroke-width="0.9"/>
<circle cx="462.30" cy="293.01" r="2.1" fill="none" stroke="#0000ff" stroke-width="0.9"/>
<polyline fill="none" stroke="#ff0000" stroke-width="1.2" stroke-linejoin="round" points="295.20,276.58 302.70,276.35 310.40,276.89 318.10,277.51 326.00,275.58 333.70,274.03 341.20,274.42 348.90,274.42 356.40,274.80 364.10,278.68 371.80,282.16 379.30,284.49 386.80,286.03 394.00,286.03 401.60,225.54 409.20,236.69 416.70,244.05 424.60,248.85 432.00,252.80 439.40,256.83 447.20,276.04 454.90,287.97 462.30,295.33"/>
<line x1="326.00" y1="274.03" x2="326.00" y2="277.13" stroke="#ff0000" stroke-width="1.0"/>
<line x1="324.00" y1="274.03" x2="328.00" y2="274.03" stroke="#ff0000" stroke-width="1.0"/>
<line x1="324.00" y1="277.13" x2="328.00" y2="277.13" stroke="#ff0000" stroke-width="1.0"/>
<line x1="333.70" y1="272.48" x2="333.70" y2="275.58" stroke="#ff0000" stroke-width="1.0"/>
<line x1="331.70" y1="272.48" x2="335.70" y2="272.48" stroke="#ff0000" stroke-width="1.0"/>
<line x1="331.70" y1="275.58" x2="335.70" y2="275.58" stroke="#ff0000" stroke-width="1.0"/>
<line x1="341.20" y1="272.87" x2="341.20" y2="275.97" stroke="#ff0000" stroke-width="1.0"/>
<line x1="339.20" y1="272.87" x2="343.20" y2="272.87" stroke="#ff0000" stroke-width="1.0"/>
<line x1="339.20" y1="275.97" x2="343.20" y2="275.97" stroke="#ff0000" stroke-width="1.0"/>
<line x1="348.90" y1="272.87" x2="348.90" y2="275.97" stroke="#ff0000" stroke-width="1.0"/>
<line x1="346.90" y1="272.87" x2="350.90" y2="272.87" stroke="#ff0000" stroke-width="1.0"/>
<line x1="346.90" y1="275.97" x2="350.90" y2="275.97" stroke="#ff0000" stroke-width="1.0"/>
<line x1="356.40" y1="273.25" x2="356.40" y2="276.35" stroke="#ff0000" stroke-width="1.0"/>
<line x1="354.40" y1="273.25" x2="358.40" y2="273.25" stroke="#ff0000" stroke-width="1.0"/>
<line x1="354.40" y1="276.35" x2="358.40" y2="276.35" stroke="#ff0000" stroke-width="1.0"/>
<line x1="364.10" y1="277.13" x2="364.10" y2="280.23" stroke="#ff0000" stroke-width="1.0"/>
<line x1="362.10" y1="277.13" x2="366.10" y2="277.13" stroke="#ff0000" stroke-width="1.0"/>
<line x1="362.10" y1="280.23" x2="366.10" y2="280.23" stroke="#ff0000" stroke-width="1.0"/>
<line x1="371.80" y1="280.61" x2="371.80" y2="283.71" stroke="#ff0000" stroke-width="1.0"/>
<line x1="369.80" y1="280.61" x2="373.80" y2="280.61" stroke="#ff0000" stroke-width="1.0"/>
<line x1="369.80" y1="283.71" x2="373.80" y2="283.71" stroke="#ff0000" stroke-width="1.0"/>
<line x1="379.30" y1="282.94" x2="379.30" y2="286.03" stroke="#ff0000" stroke-width="1.0"/>
<line x1="377.30" y1="282.94" x2="381.30" y2="282.94" stroke="#ff0000" stroke-width="1.0"/>
<line x1="377.30" y1="286.03" x2="381.30" y2="286.03" stroke="#ff0000" stroke-width="1.0"/>
<line x1="386.80" y1="284.49" x2="386.80" y2="287.58" stroke="#ff0000" stroke-width="1.0"/>
<line x1="384.80" y1="284.49" x2="388.80" y2="284.49" stroke="#ff0000" stroke-width="1.0"/>
<line x1="384.80" y1="287.58" x2="388.80" y2="287.58" stroke="#ff0000" stroke-width="1.0"/>
<line x1="394.00" y1="284.49" x2="394.00" y2="287.58" stroke="#ff0000" stroke-width="1.0"/>
<line x1="392.00" y1="284.49" x2="396.00" y2="284.49" stroke="#ff0000" stroke-width="1.0"/>
<line x1="392.00" y1="287.58" x2="396.00" y2="287.58" stroke="#ff0000" stroke-width="1.0"/>
<line x1="401.60" y1="219.73" x2="401.60" y2="231.35" stroke="#ff0000" stroke-width="1.0"/>
<line x1="399.60" y1="219.73" x2="403.60" y2="219.73" stroke="#ff0000" stroke-width="1.0"/>
<line x1="399.60" y1="231.35" x2="403.60" y2="231.35" stroke="#ff0000" stroke-width="1.0"/>
<line x1="409.20" y1="231.66" x2="409.20" y2="241.73" stroke="#ff0000" stroke-width="1.0"/>
<line x1="407.20" y1="231.66" x2="411.20" y2="231.66" stroke="#ff0000" stroke-width="1.0"/>
<line x1="407.20" y1="241.73" x2="411.20" y2="241.73" stroke="#ff0000" stroke-width="1.0"/>
<line x1="416.70" y1="239.40" x2="416.70" y2="248.70" stroke="#ff0000" stroke-width="1.0"/>
<line x1="414.70" y1="239.40" x2="418.70" y2="239.40" stroke="#ff0000" stroke-width="1.0"/>
<line x1="414.70" y1="248.70" x2="418.70" y2="248.70" stroke="#ff0000" stroke-width="1.0"/>
<line x1="424.60" y1="244.59" x2="424.60" y2="253.11" stroke="#ff0000" stroke-width="1.0"/>
<line x1="422.60" y1="244.59" x2="426.60" y2="244.59" stroke="#ff0000" stroke-width="1.0"/>
<line x1="422.60" y1="253.11" x2="426.60" y2="253.11" stroke="#ff0000" stroke-width="1.0"/>
<line x1="432.00" y1="248.93" x2="432.00" y2="256.68" stroke="#ff0000" stroke-width="1.0"/>
<line x1="430.00" y1="248.93" x2="434.00" y2="248.93" stroke="#ff0000" stroke-width="1.0"/>
<line x1="430.00" y1="256.68" x2="434.00" y2="256.68" stroke="#ff0000" stroke-width="1.0"/>
<line x1="439.40" y1="253.35" x2="439.40" y2="260.32" stroke="#ff0000" stroke-width="1.0"/>
<line x1="437.40" y1="253.35" x2="441.40" y2="253.35" stroke="#ff0000" stroke-width="1.0"/>
<line x1="437.40" y1="260.32" x2="441.40" y2="260.32" stroke="#ff0000" stroke-width="1.0"/>
<line x1="447.20" y1="274.11" x2="447.20" y2="277.98" stroke="#ff0000" stroke-width="1.0"/>
<line x1="445.20" y1="274.11" x2="449.20" y2="274.11" stroke="#ff0000" stroke-width="1.0"/>
<line x1="445.20" y1="277.98" x2="449.20" y2="277.98" stroke="#ff0000" stroke-width="1.0"/>
<rect x="292.90" y="274.28" width="4.60" height="4.60" fill="#ff0000" stroke="none" stroke-width="1"/>
<rect x="300.40" y="274.05" width="4.60" height="4.60" fill="#ff0000" stroke="none" stroke-width="1"/>
<rect x="308.10" y="274.59" width="4.60" height="4.60" fill="#ff0000" stroke="none" stroke-width="1"/>
<rect x="315.80" y="275.21" width="4.60" height="4.60" fill="#ff0000" stroke="none" stroke-width="1"/>
<rect x="323.70" y="273.28" width="4.60" height="4.60" fill="#ff0000" stroke="none" stroke-width="1"/>
<rect x="331.40" y="271.73" width="4.60" height="4.60" fill="#ff0000" stroke="none" stroke-width="1"/>
<rect x="338.90" y="272.12" width="4.60" height="4.60" fill="#ff0000" stroke="none" stroke-width="1"/>
<rect x="346.60" y="272.12" width="4.60" height="4.60" fill="#ff0000" stroke="none" stroke-width="1"/>
<rect x="354.10" y="272.50" width="4.60" height="4.60" fill="#ff0000" stroke="none" stroke-width="1"/>
<rect x="361.80" y="276.38" width="4.60" height="4.60" fill="#ff0000" stroke="none" stroke-width="1"/>
<rect x="369.50" y="279.86" width="4.60" height="4.60" fill="#ff0000" stroke="none" stroke-width="1"/>
<rect x="377.00" y="282.19" width="4.60" height="4.60" fill="#ff0000" stroke="none" stroke-width="1"/>
<rect x="384.50" y="283.73" width="4.60" height="4.60" fill="#ff0000" stroke="none" stroke-width="1"/>
<rect x="391.70" y="283.73" width="4.60" height="4.60" fill="#ff0000" stroke="none" stroke-width="1"/>
<rect x="399.30" y="223.24" width="4.60" height="4.60" fill="#ff0000" stroke="none" stroke-width="1"/>
<rect x="406.90" y="234.39" width="4.60" height="4.60" fill="#ff0000" stroke="none" stroke-width="1"/>
<rect x="414.40" y="241.75" width="4.60" height="4.60" fill="#ff0000" stroke="none" stroke-width="1"/>
<rect x="422.30" y="246.55" width="4.60" height="4.60" fill="#ff0000" stroke="none" stroke-width="1"/>
<rect x="429.70" y="250.50" width="4.60" height="4.60" fill="#ff0000" stroke="none" stroke-width="1"/>
<rect x="437.10" y="254.53" width="4.60" height="4.60" fill="#ff0000" stroke="none" stroke-width="1"/>
<rect x="444.90" y="273.74" width="4.60" height="4.60" fill="#ff0000" stroke="none" stroke-width="1"/>
<rect x="452.60" y="285.67" width="4.60" height="4.60" fill="#ff0000" stroke="none" stroke-width="1"/>
<rect x="460.00" y="293.03" width="4.60" height="4.60" fill="#ff0000" stroke="none" stroke-width="1"/>
<polyline fill="none" stroke="#0000ff" stroke-width="1.2" stroke-linejoin="round" points="295.20,276.35 302.70,275.97 310.40,276.58 318.10,277.13 326.00,275.58 333.70,274.42 341.20,274.03 348.90,274.03 356.40,274.42 364.10,275.58 371.80,277.90 379.30,279.84 386.80,281.39 394.00,282.55 401.60,252.57 409.20,256.83 416.70,260.71 424.60,263.42 432.00,265.74 439.40,268.37 447.20,281.62 454.90,288.98 462.30,294.87"/>
<line x1="401.60" y1="251.02" x2="401.60" y2="254.12" stroke="#0000ff" stroke-width="1.0"/>
<line x1="399.60" y1="251.02" x2="403.60" y2="251.02" stroke="#0000ff" stroke-width="1.0"/>
<line x1="399.60" y1="254.12" x2="403.60" y2="254.12" stroke="#0000ff" stroke-width="1.0"/>
<line x1="409.20" y1="255.28" x2="409.20" y2="258.38" stroke="#0000ff" stroke-width="1.0"/>
<line x1="407.20" y1="255.28" x2="411.20" y2="255.28" stroke="#0000ff" stroke-width="1.0"/>
<line x1="407.20" y1="258.38" x2="411.20" y2="258.38" stroke="#0000ff" stroke-width="1.0"/>
<line x1="416.70" y1="259.16" x2="416.70" y2="262.25" stroke="#0000ff" stroke-width="1.0"/>
<line x1="414.70" y1="259.16" x2="418.70" y2="259.16" stroke="#0000ff" stroke-width="1.0"/>
<line x1="414.70" y1="262.25" x2="418.70" y2="262.25" stroke="#0000ff" stroke-width="1.0"/>
<line x1="424.60" y1="261.71" x2="424.60" y2="265.12" stroke="#0000ff" stroke-width="1.0"/>
<line x1="422.60" y1="261.71" x2="426.60" y2="261.71" stroke="#0000ff" stroke-width="1.0"/>
<line x1="422.60" y1="265.12" x2="426.60" y2="265.12" stroke="#0000ff" stroke-width="1.0"/>
<line x1="432.00" y1="263.42" x2="432.00" y2="268.06" stroke="#0000ff" stroke-width="1.0"/>
<line x1="430.00" y1="263.42" x2="434.00" y2="263.42" stroke="#0000ff" stroke-width="1.0"/>
<line x1="430.00" y1="268.06" x2="434.00" y2="268.06" stroke="#0000ff" stroke-width="1.0"/>
<line x1="439.40" y1="265.66" x2="439.40" y2="271.09" stroke="#0000ff" stroke-width="1.0"/>
<line x1="437.40" y1="265.66" x2="441.40" y2="265.66" stroke="#0000ff" stroke-width="1.0"/>
<line x1="437.40" y1="271.09" x2="441.40" y2="271.09" stroke="#0000ff" stroke-width="1.0"/>
<circle cx="295.20" cy="276.35" r="2.4" fill="#0000ff" stroke="none" stroke-width="1"/>
<circle cx="302.70" cy="275.97" r="2.4" fill="#0000ff" stroke="none" stroke-width="1"/>
<circle cx="310.40" cy="276.58" r="2.4" fill="#0000ff" stroke="none" stroke-width="1"/>
<circle cx="318.10" cy="277.13" r="2.4" fill="#0000ff" stroke="none" stroke-width="1"/>
<circle cx="326.00" cy="275.58" r="2.4" fill="#0000ff" stroke="none" stroke-width="1"/>
<circle cx="333.70" cy="274.42" r="2.4" fill="#0000ff" stroke="none" stroke-width="1"/>
<circle cx="341.20" cy="274.03" r="2.4" fill="#0000ff" stroke="none" stroke-width="1"/>
<circle cx="348.90" cy="274.03" r="2.4" fill="#0000ff" stroke="none" stroke-width="1"/>
<circle cx="356.40" cy="274.42" r="2.4" fill="#0000ff" stroke="none" stroke-width="1"/>
<circle cx="364.10" cy="275.58" r="2.4" fill="#0000ff" stroke="none" stroke-width="1"/>
<circle cx="371.80" cy="277.90" r="2.4" fill="#0000ff" stroke="none" stroke-width="1"/>
<circle cx="379.30" cy="279.84" r="2.4" fill="#0000ff" stroke="none" stroke-width="1"/>
<circle cx="386.80" cy="281.39" r="2.4" fill="#0000ff" stroke="none" stroke-width="1"/>
<circle cx="394.00" cy="282.55" r="2.4" fill="#0000ff" stroke="none" stroke-width="1"/>
<circle cx="401.60" cy="252.57" r="2.4" fill="#0000ff" stroke="none" stroke-width="1"/>
<circle cx="409.20" cy="256.83" r="2.4" fill="#0000ff" stroke="none" stroke-width="1"/>
<circle cx="416.70" cy="260.71" r="2.4" fill="#0000ff" stroke="none" stroke-width="1"/>
<circle cx="424.60" cy="263.42" r="2.4" fill="#0000ff" stroke="none" stroke-width="1"/>
<circle cx="432.00" cy="265.74" r="2.4" fill="#0000ff" stroke="none" stroke-width="1"/>
<circle cx="439.40" cy="268.37" r="2.4" fill="#0000ff" stroke="none" stroke-width="1"/>
<circle cx="447.20" cy="281.62" r="2.4" fill="#0000ff" stroke="none" stroke-width="1"/>
<circle cx="454.90" cy="288.98" r="2.4" fill="#0000ff" stroke="none" stroke-width="1"/>
<circle cx="462.30" cy="294.87" r="2.4" fill="#0000ff" stroke="none" stroke-width="1"/>
<line x1="458.30" y1="197.00" x2="471.00" y2="197.00" stroke="#0000ff" stroke-width="1.05"/>
<circle cx="464.60" cy="197.00" r="2.4" fill="#0000ff" stroke="none" stroke-width="1"/>
<text x="478.20" y="200.54" font-size="9.6" transform="rotate(0.04 478.20 200.54)" stroke="#000000" stroke-width="0.18">EV</text>
<line x1="458.30" y1="212.85" x2="471.00" y2="212.85" stroke="#ff0000" stroke-width="1.05"/>
<rect x="462.30" y="210.55" width="4.60" height="4.60" fill="#ff0000" stroke="none" stroke-width="1"/>
<text x="478.20" y="216.39" font-size="9.6" transform="rotate(0.04 478.20 216.39)" stroke="#000000" stroke-width="0.18">EDNRB OE</text>
<line x1="458.30" y1="228.70" x2="471.00" y2="228.70" stroke="#0000ff" stroke-width="1.05"/>
<circle cx="464.60" cy="228.70" r="2.1" fill="none" stroke="#0000ff" stroke-width="0.9"/>
<text x="478.20" y="232.24" font-size="9.6" transform="rotate(0.04 478.20 232.24)" stroke="#000000" stroke-width="0.18">EV-ETO</text>
<line x1="458.30" y1="244.55" x2="471.00" y2="244.55" stroke="#ff0000" stroke-width="1.05"/>
<rect x="462.60" y="242.55" width="4.00" height="4.00" fill="none" stroke="#ff0000" stroke-width="0.9"/>
<text x="478.20" y="248.09" font-size="9.6" transform="rotate(0.04 478.20 248.09)" stroke="#000000" stroke-width="0.18">EDNRB OE-ETO</text>
<text x="620.00" y="185.11" font-size="8.4" font-weight="bold" text-anchor="middle" transform="rotate(0.04 620.00 185.11)" textLength="84.4" lengthAdjust="spacingAndGlyphs">Fatty acid-dependent</text>
<text x="620.20" y="194.41" font-size="8.4" font-weight="bold" text-anchor="middle" transform="rotate(0.04 620.20 194.41)" textLength="54.1" lengthAdjust="spacingAndGlyphs">maximal OCR</text>
<line x1="588.30" y1="209.60" x2="588.30" y2="286.50" stroke="#000000" stroke-width="1.0"/>
<line x1="587.80" y1="286.00" x2="652.20" y2="286.00" stroke="#000000" stroke-width="1.0"/>
<line x1="586.10" y1="286.00" x2="588.30" y2="286.00" stroke="#000000" stroke-width="1.0"/>
<text x="584.90" y="288.06" font-size="5.75" font-weight="bold" text-anchor="end" transform="rotate(0.04 584.90 288.06)">0</text>
<line x1="586.10" y1="270.82" x2="588.30" y2="270.82" stroke="#000000" stroke-width="1.0"/>
<text x="584.90" y="272.88" font-size="5.75" font-weight="bold" text-anchor="end" transform="rotate(0.04 584.90 272.88)">200</text>
<line x1="586.10" y1="255.64" x2="588.30" y2="255.64" stroke="#000000" stroke-width="1.0"/>
<text x="584.90" y="257.70" font-size="5.75" font-weight="bold" text-anchor="end" transform="rotate(0.04 584.90 257.70)">400</text>
<line x1="586.10" y1="240.46" x2="588.30" y2="240.46" stroke="#000000" stroke-width="1.0"/>
<text x="584.90" y="242.52" font-size="5.75" font-weight="bold" text-anchor="end" transform="rotate(0.04 584.90 242.52)">600</text>
<line x1="586.10" y1="225.28" x2="588.30" y2="225.28" stroke="#000000" stroke-width="1.0"/>
<text x="584.90" y="227.34" font-size="5.75" font-weight="bold" text-anchor="end" transform="rotate(0.04 584.90 227.34)">800</text>
<line x1="586.10" y1="210.10" x2="588.30" y2="210.10" stroke="#000000" stroke-width="1.0"/>
<text x="584.90" y="212.16" font-size="5.75" font-weight="bold" text-anchor="end" transform="rotate(0.04 584.90 212.16)">1000</text>
<line x1="606.30" y1="286.00" x2="606.30" y2="288.50" stroke="#000000" stroke-width="1.0"/>
<line x1="633.80" y1="286.00" x2="633.80" y2="288.50" stroke="#000000" stroke-width="1.0"/>
<text x="567.17" y="248.00" font-size="7.45" text-anchor="middle" transform="rotate(-90 567.17 248.00)" font-weight="bold" textLength="56.7" lengthAdjust="spacingAndGlyphs">OCR (pmol/min)</text>
<path d="M597.55 286.00V270.35H615.25V286.00" fill="none" stroke="#0000ff" stroke-width="1.1"/>
<path d="M625.35 286.00V247.65H642.45V286.00" fill="none" stroke="#ff0000" stroke-width="1.1"/>
<line x1="606.80" y1="268.30" x2="606.80" y2="271.90" stroke="#0000ff" stroke-width="0.9"/>
<line x1="602.30" y1="268.30" x2="611.30" y2="268.30" stroke="#0000ff" stroke-width="0.9"/>
<line x1="602.30" y1="271.90" x2="611.30" y2="271.90" stroke="#0000ff" stroke-width="0.9"/>
<line x1="633.80" y1="240.90" x2="633.80" y2="254.40" stroke="#ff0000" stroke-width="0.9"/>
<line x1="629.30" y1="240.90" x2="638.30" y2="240.90" stroke="#ff0000" stroke-width="0.9"/>
<line x1="629.30" y1="254.40" x2="638.30" y2="254.40" stroke="#ff0000" stroke-width="0.9"/>
<circle cx="604.60" cy="268.60" r="1.3" fill="#0000ff" stroke="none" stroke-width="1"/>
<circle cx="609.30" cy="269.40" r="1.3" fill="#0000ff" stroke="none" stroke-width="1"/>
<circle cx="606.70" cy="272.40" r="1.3" fill="#0000ff" stroke="none" stroke-width="1"/>
<circle cx="633.80" cy="229.00" r="1.2" fill="#ff0000" stroke="none" stroke-width="1"/>
<circle cx="631.60" cy="250.90" r="1.2" fill="#ff0000" stroke="none" stroke-width="1"/>
<circle cx="635.90" cy="250.90" r="1.2" fill="#ff0000" stroke="none" stroke-width="1"/>
<circle cx="633.80" cy="259.30" r="1.2" fill="#ff0000" stroke="none" stroke-width="1"/>
<text x="620.20" y="218.01" font-size="5.9" text-anchor="middle" transform="rotate(0.04 620.20 218.01)" fill="#333" textLength="28.0" lengthAdjust="spacingAndGlyphs">P = 0.0344</text>
<line x1="606.30" y1="221.50" x2="633.80" y2="221.50" stroke="#3a3a3a" stroke-width="0.65"/>
<text x="608.60" y="295.90" font-size="7.6" font-weight="bold" text-anchor="end" transform="rotate(-45 608.60 295.90)">EV</text>
<text x="636.10" y="295.90" font-size="7.5" font-weight="bold" text-anchor="end" transform="rotate(-45 636.10 295.90)">EDNRB OE</text>
<text x="5.50" y="373.90" font-size="26.8" font-weight="bold" transform="rotate(0.04 5.50 373.90)">f</text>
<text x="138.60" y="366.54" font-size="11.0" font-weight="bold" text-anchor="middle" transform="rotate(0.04 138.60 366.54)" textLength="134.8" lengthAdjust="spacingAndGlyphs">Glucose-dependent OCR</text>
<line x1="51.60" y1="380.14" x2="51.60" y2="497.50" stroke="#000000" stroke-width="1.2"/>
<line x1="51.00" y1="496.90" x2="225.20" y2="496.90" stroke="#000000" stroke-width="1.2"/>
<line x1="48.20" y1="496.90" x2="51.60" y2="496.90" stroke="#000000" stroke-width="1.2"/>
<text x="47.00" y="499.91" font-size="8.4" font-weight="bold" text-anchor="end" transform="rotate(0.04 47.00 499.91)">0</text>
<line x1="48.20" y1="458.18" x2="51.60" y2="458.18" stroke="#000000" stroke-width="1.2"/>
<text x="47.00" y="461.19" font-size="8.4" font-weight="bold" text-anchor="end" transform="rotate(0.04 47.00 461.19)">500</text>
<line x1="48.20" y1="419.46" x2="51.60" y2="419.46" stroke="#000000" stroke-width="1.2"/>
<text x="47.00" y="422.47" font-size="8.4" font-weight="bold" text-anchor="end" transform="rotate(0.04 47.00 422.47)">1000</text>
<line x1="48.20" y1="380.74" x2="51.60" y2="380.74" stroke="#000000" stroke-width="1.2"/>
<text x="47.00" y="383.75" font-size="8.4" font-weight="bold" text-anchor="end" transform="rotate(0.04 47.00 383.75)">1500</text>
<line x1="51.60" y1="496.90" x2="51.60" y2="500.30" stroke="#000000" stroke-width="1.2"/>
<text x="51.60" y="510.41" font-size="8.4" font-weight="bold" text-anchor="middle" transform="rotate(0.04 51.60 510.41)">0</text>
<line x1="80.50" y1="496.90" x2="80.50" y2="500.30" stroke="#000000" stroke-width="1.2"/>
<text x="80.50" y="510.41" font-size="8.4" font-weight="bold" text-anchor="middle" transform="rotate(0.04 80.50 510.41)">30</text>
<line x1="109.40" y1="496.90" x2="109.40" y2="500.30" stroke="#000000" stroke-width="1.2"/>
<text x="109.40" y="510.41" font-size="8.4" font-weight="bold" text-anchor="middle" transform="rotate(0.04 109.40 510.41)">60</text>
<line x1="138.30" y1="496.90" x2="138.30" y2="500.30" stroke="#000000" stroke-width="1.2"/>
<text x="138.30" y="510.41" font-size="8.4" font-weight="bold" text-anchor="middle" transform="rotate(0.04 138.30 510.41)">90</text>
<line x1="167.20" y1="496.90" x2="167.20" y2="500.30" stroke="#000000" stroke-width="1.2"/>
<text x="167.20" y="510.41" font-size="8.4" font-weight="bold" text-anchor="middle" transform="rotate(0.04 167.20 510.41)">120</text>
<line x1="196.10" y1="496.90" x2="196.10" y2="500.30" stroke="#000000" stroke-width="1.2"/>
<text x="196.10" y="510.41" font-size="8.4" font-weight="bold" text-anchor="middle" transform="rotate(0.04 196.10 510.41)">150</text>
<line x1="225.00" y1="496.90" x2="225.00" y2="500.30" stroke="#000000" stroke-width="1.2"/>
<text x="225.00" y="510.41" font-size="8.4" font-weight="bold" text-anchor="middle" transform="rotate(0.04 225.00 510.41)">180</text>
<text x="21.30" y="438.00" font-size="9.5" text-anchor="middle" transform="rotate(-90 21.30 438.00)" font-weight="bold" textLength="72.0" lengthAdjust="spacingAndGlyphs">OCR (pmol/min)</text>
<text x="138.20" y="522.24" font-size="9.6" font-weight="bold" text-anchor="middle" transform="rotate(0.04 138.20 522.24)" textLength="68.0" lengthAdjust="spacingAndGlyphs">Time (minutes)</text>
<line x1="81.10" y1="390.60" x2="81.10" y2="496.90" stroke="#111" stroke-width="1.3"/>
<text x="80.80" y="384.17" font-size="9.4" text-anchor="middle" transform="rotate(0.04 80.80 384.17)" fill="#000" stroke="#000" stroke-width="0.18">OA</text>
<line x1="114.30" y1="390.60" x2="114.30" y2="496.90" stroke="#111" stroke-width="1.3"/>
<text x="115.20" y="384.17" font-size="9.4" text-anchor="middle" transform="rotate(0.04 115.20 384.17)" fill="#000" stroke="#000" stroke-width="0.18">FSK</text>
<line x1="166.70" y1="390.60" x2="166.70" y2="496.90" stroke="#111" stroke-width="1.3"/>
<text x="166.40" y="384.17" font-size="9.4" text-anchor="middle" transform="rotate(0.04 166.40 384.17)" fill="#000" stroke="#000" stroke-width="0.18">AA</text>
<polyline fill="none" stroke="#ff0000" stroke-width="1.2" stroke-linejoin="round" points="51.90,438.43 60.30,438.05 68.50,438.43 77.10,439.44 85.70,447.80 93.90,449.43 102.30,447.80 111.00,447.34 119.20,444.71 127.50,434.95 136.00,424.18 144.40,413.96 152.60,409.39 160.80,405.44 169.50,467.71 177.80,468.09 186.20,469.25 194.50,469.87"/>
<line x1="51.90" y1="433.40" x2="51.90" y2="443.47" stroke="#ff0000" stroke-width="1.0"/>
<line x1="49.60" y1="433.40" x2="54.20" y2="433.40" stroke="#ff0000" stroke-width="1.0"/>
<line x1="49.60" y1="443.47" x2="54.20" y2="443.47" stroke="#ff0000" stroke-width="1.0"/>
<line x1="60.30" y1="433.01" x2="60.30" y2="443.08" stroke="#ff0000" stroke-width="1.0"/>
<line x1="58.00" y1="433.01" x2="62.60" y2="433.01" stroke="#ff0000" stroke-width="1.0"/>
<line x1="58.00" y1="443.08" x2="62.60" y2="443.08" stroke="#ff0000" stroke-width="1.0"/>
<line x1="68.50" y1="433.40" x2="68.50" y2="443.47" stroke="#ff0000" stroke-width="1.0"/>
<line x1="66.20" y1="433.40" x2="70.80" y2="433.40" stroke="#ff0000" stroke-width="1.0"/>
<line x1="66.20" y1="443.47" x2="70.80" y2="443.47" stroke="#ff0000" stroke-width="1.0"/>
<line x1="77.10" y1="434.41" x2="77.10" y2="444.47" stroke="#ff0000" stroke-width="1.0"/>
<line x1="74.80" y1="434.41" x2="79.40" y2="434.41" stroke="#ff0000" stroke-width="1.0"/>
<line x1="74.80" y1="444.47" x2="79.40" y2="444.47" stroke="#ff0000" stroke-width="1.0"/>
<line x1="85.70" y1="443.54" x2="85.70" y2="452.06" stroke="#ff0000" stroke-width="1.0"/>
<line x1="83.40" y1="443.54" x2="88.00" y2="443.54" stroke="#ff0000" stroke-width="1.0"/>
<line x1="83.40" y1="452.06" x2="88.00" y2="452.06" stroke="#ff0000" stroke-width="1.0"/>
<line x1="93.90" y1="445.17" x2="93.90" y2="453.69" stroke="#ff0000" stroke-width="1.0"/>
<line x1="91.60" y1="445.17" x2="96.20" y2="445.17" stroke="#ff0000" stroke-width="1.0"/>
<line x1="91.60" y1="453.69" x2="96.20" y2="453.69" stroke="#ff0000" stroke-width="1.0"/>
<line x1="102.30" y1="443.93" x2="102.30" y2="451.68" stroke="#ff0000" stroke-width="1.0"/>
<line x1="100.00" y1="443.93" x2="104.60" y2="443.93" stroke="#ff0000" stroke-width="1.0"/>
<line x1="100.00" y1="451.68" x2="104.60" y2="451.68" stroke="#ff0000" stroke-width="1.0"/>
<line x1="111.00" y1="443.47" x2="111.00" y2="451.21" stroke="#ff0000" stroke-width="1.0"/>
<line x1="108.70" y1="443.47" x2="113.30" y2="443.47" stroke="#ff0000" stroke-width="1.0"/>
<line x1="108.70" y1="451.21" x2="113.30" y2="451.21" stroke="#ff0000" stroke-width="1.0"/>
<line x1="119.20" y1="440.83" x2="119.20" y2="448.58" stroke="#ff0000" stroke-width="1.0"/>
<line x1="116.90" y1="440.83" x2="121.50" y2="440.83" stroke="#ff0000" stroke-width="1.0"/>
<line x1="116.90" y1="448.58" x2="121.50" y2="448.58" stroke="#ff0000" stroke-width="1.0"/>
<line x1="127.50" y1="430.69" x2="127.50" y2="439.21" stroke="#ff0000" stroke-width="1.0"/>
<line x1="125.20" y1="430.69" x2="129.80" y2="430.69" stroke="#ff0000" stroke-width="1.0"/>
<line x1="125.20" y1="439.21" x2="129.80" y2="439.21" stroke="#ff0000" stroke-width="1.0"/>
<line x1="136.00" y1="419.15" x2="136.00" y2="429.22" stroke="#ff0000" stroke-width="1.0"/>
<line x1="133.70" y1="419.15" x2="138.30" y2="419.15" stroke="#ff0000" stroke-width="1.0"/>
<line x1="133.70" y1="429.22" x2="138.30" y2="429.22" stroke="#ff0000" stroke-width="1.0"/>
<line x1="144.40" y1="408.93" x2="144.40" y2="419.00" stroke="#ff0000" stroke-width="1.0"/>
<line x1="142.10" y1="408.93" x2="146.70" y2="408.93" stroke="#ff0000" stroke-width="1.0"/>
<line x1="142.10" y1="419.00" x2="146.70" y2="419.00" stroke="#ff0000" stroke-width="1.0"/>
<line x1="152.60" y1="404.36" x2="152.60" y2="414.43" stroke="#ff0000" stroke-width="1.0"/>
<line x1="150.30" y1="404.36" x2="154.90" y2="404.36" stroke="#ff0000" stroke-width="1.0"/>
<line x1="150.30" y1="414.43" x2="154.90" y2="414.43" stroke="#ff0000" stroke-width="1.0"/>
<line x1="160.80" y1="400.02" x2="160.80" y2="410.86" stroke="#ff0000" stroke-width="1.0"/>
<line x1="158.50" y1="400.02" x2="163.10" y2="400.02" stroke="#ff0000" stroke-width="1.0"/>
<line x1="158.50" y1="410.86" x2="163.10" y2="410.86" stroke="#ff0000" stroke-width="1.0"/>
<circle cx="51.90" cy="438.43" r="2.5" fill="#ff0000" stroke="none" stroke-width="1"/>
<circle cx="60.30" cy="438.05" r="2.5" fill="#ff0000" stroke="none" stroke-width="1"/>
<circle cx="68.50" cy="438.43" r="2.5" fill="#ff0000" stroke="none" stroke-width="1"/>
<circle cx="77.10" cy="439.44" r="2.5" fill="#ff0000" stroke="none" stroke-width="1"/>
<circle cx="85.70" cy="447.80" r="2.5" fill="#ff0000" stroke="none" stroke-width="1"/>
<circle cx="93.90" cy="449.43" r="2.5" fill="#ff0000" stroke="none" stroke-width="1"/>
<circle cx="102.30" cy="447.80" r="2.5" fill="#ff0000" stroke="none" stroke-width="1"/>
<circle cx="111.00" cy="447.34" r="2.5" fill="#ff0000" stroke="none" stroke-width="1"/>
<circle cx="119.20" cy="444.71" r="2.5" fill="#ff0000" stroke="none" stroke-width="1"/>
<circle cx="127.50" cy="434.95" r="2.5" fill="#ff0000" stroke="none" stroke-width="1"/>
<circle cx="136.00" cy="424.18" r="2.5" fill="#ff0000" stroke="none" stroke-width="1"/>
<circle cx="144.40" cy="413.96" r="2.5" fill="#ff0000" stroke="none" stroke-width="1"/>
<circle cx="152.60" cy="409.39" r="2.5" fill="#ff0000" stroke="none" stroke-width="1"/>
<circle cx="160.80" cy="405.44" r="2.5" fill="#ff0000" stroke="none" stroke-width="1"/>
<circle cx="169.50" cy="467.71" r="2.5" fill="#ff0000" stroke="none" stroke-width="1"/>
<circle cx="177.80" cy="468.09" r="2.5" fill="#ff0000" stroke="none" stroke-width="1"/>
<circle cx="186.20" cy="469.25" r="2.5" fill="#ff0000" stroke="none" stroke-width="1"/>
<circle cx="194.50" cy="469.87" r="2.5" fill="#ff0000" stroke="none" stroke-width="1"/>
<polyline fill="none" stroke="#0000ff" stroke-width="1.2" stroke-linejoin="round" points="51.90,444.32 60.30,445.48 68.50,446.02 77.10,446.64 85.70,453.61 93.90,454.31 102.30,452.53 111.00,451.83 119.20,452.37 127.50,448.73 136.00,446.18 144.40,443.23 152.60,441.07 160.80,438.51 169.50,472.97 177.80,473.28 186.20,475.45 194.50,475.68"/>
<line x1="51.90" y1="439.52" x2="51.90" y2="449.12" stroke="#0000ff" stroke-width="1.0"/>
<line x1="49.60" y1="439.52" x2="54.20" y2="439.52" stroke="#0000ff" stroke-width="1.0"/>
<line x1="49.60" y1="449.12" x2="54.20" y2="449.12" stroke="#0000ff" stroke-width="1.0"/>
<line x1="60.30" y1="440.68" x2="60.30" y2="450.28" stroke="#0000ff" stroke-width="1.0"/>
<line x1="58.00" y1="440.68" x2="62.60" y2="440.68" stroke="#0000ff" stroke-width="1.0"/>
<line x1="58.00" y1="450.28" x2="62.60" y2="450.28" stroke="#0000ff" stroke-width="1.0"/>
<line x1="68.50" y1="441.22" x2="68.50" y2="450.82" stroke="#0000ff" stroke-width="1.0"/>
<line x1="66.20" y1="441.22" x2="70.80" y2="441.22" stroke="#0000ff" stroke-width="1.0"/>
<line x1="66.20" y1="450.82" x2="70.80" y2="450.82" stroke="#0000ff" stroke-width="1.0"/>
<line x1="77.10" y1="441.84" x2="77.10" y2="451.44" stroke="#0000ff" stroke-width="1.0"/>
<line x1="74.80" y1="441.84" x2="79.40" y2="441.84" stroke="#0000ff" stroke-width="1.0"/>
<line x1="74.80" y1="451.44" x2="79.40" y2="451.44" stroke="#0000ff" stroke-width="1.0"/>
<line x1="85.70" y1="448.96" x2="85.70" y2="458.26" stroke="#0000ff" stroke-width="1.0"/>
<line x1="83.40" y1="448.96" x2="88.00" y2="448.96" stroke="#0000ff" stroke-width="1.0"/>
<line x1="83.40" y1="458.26" x2="88.00" y2="458.26" stroke="#0000ff" stroke-width="1.0"/>
<line x1="93.90" y1="449.82" x2="93.90" y2="458.80" stroke="#0000ff" stroke-width="1.0"/>
<line x1="91.60" y1="449.82" x2="96.20" y2="449.82" stroke="#0000ff" stroke-width="1.0"/>
<line x1="91.60" y1="458.80" x2="96.20" y2="458.80" stroke="#0000ff" stroke-width="1.0"/>
<line x1="102.30" y1="448.27" x2="102.30" y2="456.79" stroke="#0000ff" stroke-width="1.0"/>
<line x1="100.00" y1="448.27" x2="104.60" y2="448.27" stroke="#0000ff" stroke-width="1.0"/>
<line x1="100.00" y1="456.79" x2="104.60" y2="456.79" stroke="#0000ff" stroke-width="1.0"/>
<line x1="111.00" y1="447.57" x2="111.00" y2="456.09" stroke="#0000ff" stroke-width="1.0"/>
<line x1="108.70" y1="447.57" x2="113.30" y2="447.57" stroke="#0000ff" stroke-width="1.0"/>
<line x1="108.70" y1="456.09" x2="113.30" y2="456.09" stroke="#0000ff" stroke-width="1.0"/>
<line x1="119.20" y1="447.34" x2="119.20" y2="457.41" stroke="#0000ff" stroke-width="1.0"/>
<line x1="116.90" y1="447.34" x2="121.50" y2="447.34" stroke="#0000ff" stroke-width="1.0"/>
<line x1="116.90" y1="457.41" x2="121.50" y2="457.41" stroke="#0000ff" stroke-width="1.0"/>
<line x1="127.50" y1="443.70" x2="127.50" y2="453.77" stroke="#0000ff" stroke-width="1.0"/>
<line x1="125.20" y1="443.70" x2="129.80" y2="443.70" stroke="#0000ff" stroke-width="1.0"/>
<line x1="125.20" y1="453.77" x2="129.80" y2="453.77" stroke="#0000ff" stroke-width="1.0"/>
<line x1="136.00" y1="441.38" x2="136.00" y2="450.98" stroke="#0000ff" stroke-width="1.0"/>
<line x1="133.70" y1="441.38" x2="138.30" y2="441.38" stroke="#0000ff" stroke-width="1.0"/>
<line x1="133.70" y1="450.98" x2="138.30" y2="450.98" stroke="#0000ff" stroke-width="1.0"/>
<line x1="144.40" y1="438.43" x2="144.40" y2="448.04" stroke="#0000ff" stroke-width="1.0"/>
<line x1="142.10" y1="438.43" x2="146.70" y2="438.43" stroke="#0000ff" stroke-width="1.0"/>
<line x1="142.10" y1="448.04" x2="146.70" y2="448.04" stroke="#0000ff" stroke-width="1.0"/>
<line x1="152.60" y1="436.03" x2="152.60" y2="446.10" stroke="#0000ff" stroke-width="1.0"/>
<line x1="150.30" y1="436.03" x2="154.90" y2="436.03" stroke="#0000ff" stroke-width="1.0"/>
<line x1="150.30" y1="446.10" x2="154.90" y2="446.10" stroke="#0000ff" stroke-width="1.0"/>
<line x1="160.80" y1="433.48" x2="160.80" y2="443.54" stroke="#0000ff" stroke-width="1.0"/>
<line x1="158.50" y1="433.48" x2="163.10" y2="433.48" stroke="#0000ff" stroke-width="1.0"/>
<line x1="158.50" y1="443.54" x2="163.10" y2="443.54" stroke="#0000ff" stroke-width="1.0"/>
<circle cx="51.90" cy="444.32" r="2.5" fill="#0000ff" stroke="none" stroke-width="1"/>
<circle cx="60.30" cy="445.48" r="2.5" fill="#0000ff" stroke="none" stroke-width="1"/>
<circle cx="68.50" cy="446.02" r="2.5" fill="#0000ff" stroke="none" stroke-width="1"/>
<circle cx="77.10" cy="446.64" r="2.5" fill="#0000ff" stroke="none" stroke-width="1"/>
<circle cx="85.70" cy="453.61" r="2.5" fill="#0000ff" stroke="none" stroke-width="1"/>
<circle cx="93.90" cy="454.31" r="2.5" fill="#0000ff" stroke="none" stroke-width="1"/>
<circle cx="102.30" cy="452.53" r="2.5" fill="#0000ff" stroke="none" stroke-width="1"/>
<circle cx="111.00" cy="451.83" r="2.5" fill="#0000ff" stroke="none" stroke-width="1"/>
<circle cx="119.20" cy="452.37" r="2.5" fill="#0000ff" stroke="none" stroke-width="1"/>
<circle cx="127.50" cy="448.73" r="2.5" fill="#0000ff" stroke="none" stroke-width="1"/>
<circle cx="136.00" cy="446.18" r="2.5" fill="#0000ff" stroke="none" stroke-width="1"/>
<circle cx="144.40" cy="443.23" r="2.5" fill="#0000ff" stroke="none" stroke-width="1"/>
<circle cx="152.60" cy="441.07" r="2.5" fill="#0000ff" stroke="none" stroke-width="1"/>
<circle cx="160.80" cy="438.51" r="2.5" fill="#0000ff" stroke="none" stroke-width="1"/>
<circle cx="169.50" cy="472.97" r="2.5" fill="#0000ff" stroke="none" stroke-width="1"/>
<circle cx="177.80" cy="473.28" r="2.5" fill="#0000ff" stroke="none" stroke-width="1"/>
<circle cx="186.20" cy="475.45" r="2.5" fill="#0000ff" stroke="none" stroke-width="1"/>
<circle cx="194.50" cy="475.68" r="2.5" fill="#0000ff" stroke="none" stroke-width="1"/>
<line x1="183.70" y1="388.00" x2="196.00" y2="388.00" stroke="#0000ff" stroke-width="1.2"/>
<circle cx="189.80" cy="388.00" r="2.4" fill="#0000ff" stroke="none" stroke-width="1"/>
<text x="203.00" y="391.47" font-size="9.4" transform="rotate(0.04 203.00 391.47)" stroke="#000000" stroke-width="0.18">EV</text>
<line x1="183.70" y1="404.40" x2="196.00" y2="404.40" stroke="#ff0000" stroke-width="1.2"/>
<circle cx="189.80" cy="404.40" r="2.4" fill="#ff0000" stroke="none" stroke-width="1"/>
<text x="203.00" y="407.87" font-size="9.4" transform="rotate(0.04 203.00 407.87)" textLength="49.3" lengthAdjust="spacingAndGlyphs" stroke="#000000" stroke-width="0.18">EDNRB OE</text>
<text x="319.00" y="379.75" font-size="8.8" font-weight="bold" text-anchor="middle" transform="rotate(0.04 319.00 379.75)" textLength="88.1" lengthAdjust="spacingAndGlyphs">FSK-dependent OCR</text>
<line x1="285.10" y1="395.05" x2="285.10" y2="477.15" stroke="#000000" stroke-width="1.1"/>
<line x1="284.55" y1="476.60" x2="353.00" y2="476.60" stroke="#000000" stroke-width="1.1"/>
<line x1="282.90" y1="476.60" x2="285.10" y2="476.60" stroke="#000000" stroke-width="1.1"/>
<text x="281.70" y="478.71" font-size="5.9" font-weight="bold" text-anchor="end" transform="rotate(0.04 281.70 478.71)">0</text>
<line x1="282.90" y1="460.40" x2="285.10" y2="460.40" stroke="#000000" stroke-width="1.1"/>
<text x="281.70" y="462.51" font-size="5.9" font-weight="bold" text-anchor="end" transform="rotate(0.04 281.70 462.51)">200</text>
<line x1="282.90" y1="444.20" x2="285.10" y2="444.20" stroke="#000000" stroke-width="1.1"/>
<text x="281.70" y="446.31" font-size="5.9" font-weight="bold" text-anchor="end" transform="rotate(0.04 281.70 446.31)">400</text>
<line x1="282.90" y1="428.00" x2="285.10" y2="428.00" stroke="#000000" stroke-width="1.1"/>
<text x="281.70" y="430.11" font-size="5.9" font-weight="bold" text-anchor="end" transform="rotate(0.04 281.70 430.11)">600</text>
<line x1="282.90" y1="411.80" x2="285.10" y2="411.80" stroke="#000000" stroke-width="1.1"/>
<text x="281.70" y="413.91" font-size="5.9" font-weight="bold" text-anchor="end" transform="rotate(0.04 281.70 413.91)">800</text>
<line x1="282.90" y1="395.60" x2="285.10" y2="395.60" stroke="#000000" stroke-width="1.1"/>
<text x="281.70" y="397.71" font-size="5.9" font-weight="bold" text-anchor="end" transform="rotate(0.04 281.70 397.71)">1000</text>
<line x1="304.20" y1="476.60" x2="304.20" y2="479.10" stroke="#000000" stroke-width="1.1"/>
<line x1="333.40" y1="476.60" x2="333.40" y2="479.10" stroke="#000000" stroke-width="1.1"/>
<text x="262.99" y="436.00" font-size="7.8" text-anchor="middle" transform="rotate(-90 262.99 436.00)" font-weight="bold" textLength="60.0" lengthAdjust="spacingAndGlyphs">OCR (pmol/min)</text>
<path d="M294.88 476.60V462.18H313.53V476.60" fill="none" stroke="#0000ff" stroke-width="1.15"/>
<path d="M323.88 476.60V431.88H342.53V476.60" fill="none" stroke="#ff0000" stroke-width="1.15"/>
<line x1="304.30" y1="460.10" x2="304.30" y2="464.40" stroke="#0000ff" stroke-width="0.9"/>
<line x1="299.40" y1="460.10" x2="309.20" y2="460.10" stroke="#0000ff" stroke-width="0.9"/>
<line x1="299.40" y1="464.40" x2="309.20" y2="464.40" stroke="#0000ff" stroke-width="0.9"/>
<line x1="333.20" y1="427.30" x2="333.20" y2="435.80" stroke="#ff0000" stroke-width="0.9"/>
<line x1="328.50" y1="427.30" x2="337.90" y2="427.30" stroke="#ff0000" stroke-width="0.9"/>
<line x1="328.50" y1="435.80" x2="337.90" y2="435.80" stroke="#ff0000" stroke-width="0.9"/>
<circle cx="304.30" cy="455.90" r="1.35" fill="#0000ff" stroke="none" stroke-width="1"/>
<circle cx="299.30" cy="465.00" r="1.35" fill="#0000ff" stroke="none" stroke-width="1"/>
<circle cx="304.20" cy="463.90" r="1.35" fill="#0000ff" stroke="none" stroke-width="1"/>
<circle cx="309.00" cy="464.70" r="1.35" fill="#0000ff" stroke="none" stroke-width="1"/>
<circle cx="304.40" cy="462.20" r="1.35" fill="#0000ff" stroke="none" stroke-width="1"/>
<circle cx="333.20" cy="416.00" r="1.3" fill="#ff0000" stroke="none" stroke-width="1"/>
<circle cx="330.80" cy="432.30" r="1.3" fill="#ff0000" stroke="none" stroke-width="1"/>
<circle cx="335.50" cy="431.40" r="1.3" fill="#ff0000" stroke="none" stroke-width="1"/>
<circle cx="333.20" cy="437.00" r="1.3" fill="#ff0000" stroke="none" stroke-width="1"/>
<circle cx="333.20" cy="440.70" r="1.3" fill="#ff0000" stroke="none" stroke-width="1"/>
<text x="318.40" y="402.98" font-size="5.8" text-anchor="middle" transform="rotate(0.04 318.40 402.98)" fill="#333" textLength="27.2" lengthAdjust="spacingAndGlyphs">P = 0.0002</text>
<line x1="304.00" y1="406.50" x2="334.10" y2="406.50" stroke="#3a3a3a" stroke-width="0.65"/>
<text x="306.60" y="486.20" font-size="7.6" font-weight="bold" text-anchor="end" transform="rotate(-45 306.60 486.20)">EV</text>
<text x="335.80" y="486.20" font-size="7.5" font-weight="bold" text-anchor="end" transform="rotate(-45 335.80 486.20)">EDNRB OE</text>
<text x="389.70" y="369.30" font-size="26.8" font-weight="bold" transform="rotate(0.04 389.70 369.30)">g</text>
<text x="496.20" y="369.05" font-size="11.6" font-weight="bold" text-anchor="middle" transform="rotate(0.04 496.20 369.05)" textLength="95.3" lengthAdjust="spacingAndGlyphs">Thermogenesis</text>
<line x1="428.50" y1="383.55" x2="428.50" y2="496.50" stroke="#000000" stroke-width="1.2"/>
<line x1="427.90" y1="495.90" x2="565.50" y2="495.90" stroke="#000000" stroke-width="1.2"/>
<line x1="425.10" y1="495.90" x2="428.50" y2="495.90" stroke="#000000" stroke-width="1.2"/>
<text x="423.90" y="498.91" font-size="8.4" font-weight="bold" text-anchor="end" transform="rotate(0.04 423.90 498.91)">0.6</text>
<line x1="425.10" y1="473.55" x2="428.50" y2="473.55" stroke="#000000" stroke-width="1.2"/>
<text x="423.90" y="476.56" font-size="8.4" font-weight="bold" text-anchor="end" transform="rotate(0.04 423.90 476.56)">0.7</text>
<line x1="425.10" y1="451.20" x2="428.50" y2="451.20" stroke="#000000" stroke-width="1.2"/>
<text x="423.90" y="454.21" font-size="8.4" font-weight="bold" text-anchor="end" transform="rotate(0.04 423.90 454.21)">0.8</text>
<line x1="425.10" y1="428.85" x2="428.50" y2="428.85" stroke="#000000" stroke-width="1.2"/>
<text x="423.90" y="431.86" font-size="8.4" font-weight="bold" text-anchor="end" transform="rotate(0.04 423.90 431.86)">0.9</text>
<line x1="425.10" y1="406.50" x2="428.50" y2="406.50" stroke="#000000" stroke-width="1.2"/>
<text x="423.90" y="409.51" font-size="8.4" font-weight="bold" text-anchor="end" transform="rotate(0.04 423.90 409.51)">1.0</text>
<line x1="425.10" y1="384.15" x2="428.50" y2="384.15" stroke="#000000" stroke-width="1.2"/>
<text x="423.90" y="387.16" font-size="8.4" font-weight="bold" text-anchor="end" transform="rotate(0.04 423.90 387.16)">1.1</text>
<line x1="428.50" y1="495.90" x2="428.50" y2="499.30" stroke="#000000" stroke-width="1.2"/>
<text x="428.50" y="509.41" font-size="8.4" font-weight="bold" text-anchor="middle" transform="rotate(0.04 428.50 509.41)">0</text>
<line x1="455.77" y1="495.90" x2="455.77" y2="499.30" stroke="#000000" stroke-width="1.2"/>
<text x="455.77" y="509.41" font-size="8.4" font-weight="bold" text-anchor="middle" transform="rotate(0.04 455.77 509.41)">20</text>
<line x1="483.04" y1="495.90" x2="483.04" y2="499.30" stroke="#000000" stroke-width="1.2"/>
<text x="483.04" y="509.41" font-size="8.4" font-weight="bold" text-anchor="middle" transform="rotate(0.04 483.04 509.41)">40</text>
<line x1="510.31" y1="495.90" x2="510.31" y2="499.30" stroke="#000000" stroke-width="1.2"/>
<text x="510.31" y="509.41" font-size="8.4" font-weight="bold" text-anchor="middle" transform="rotate(0.04 510.31 509.41)">60</text>
<line x1="537.58" y1="495.90" x2="537.58" y2="499.30" stroke="#000000" stroke-width="1.2"/>
<text x="537.58" y="509.41" font-size="8.4" font-weight="bold" text-anchor="middle" transform="rotate(0.04 537.58 509.41)">80</text>
<line x1="564.85" y1="495.90" x2="564.85" y2="499.30" stroke="#000000" stroke-width="1.2"/>
<text x="564.85" y="509.41" font-size="8.4" font-weight="bold" text-anchor="middle" transform="rotate(0.04 564.85 509.41)">100</text>
<text x="393.39" y="440.00" font-size="10.6" text-anchor="middle" transform="rotate(-90 393.39 440.00)" font-weight="bold" textLength="43.5" lengthAdjust="spacingAndGlyphs">Intensity</text>
<text x="406.59" y="439.80" font-size="10.6" text-anchor="middle" transform="rotate(-90 406.59 439.80)" font-weight="bold" textLength="98.5" lengthAdjust="spacingAndGlyphs">(normalized to T=0)</text>
<text x="496.80" y="524.83" font-size="10.7" font-weight="bold" text-anchor="middle" transform="rotate(0.04 496.80 524.83)" textLength="76.5" lengthAdjust="spacingAndGlyphs">Time (minutes)</text>
<text x="434.50" y="373.33" font-size="9.3" text-anchor="middle" transform="rotate(0.04 434.50 373.33)" fill="#000" stroke="#000" stroke-width="0.18">FSK</text>
<line x1="433.60" y1="376.60" x2="433.60" y2="388.50" stroke="#000000" stroke-width="1.2"/>
<path d="M430.6 386.8L436.6 386.8L433.6 394.2Z" fill="#000000" stroke="none" stroke-width="1"/>
<polyline fill="none" stroke="#0000ff" stroke-width="1.0" stroke-linejoin="round" points="428.50,406.50 433.95,407.16 439.41,407.82 444.86,408.48 450.32,409.14 455.77,409.81 461.22,410.47 466.68,411.13 472.13,411.79 477.59,412.45 483.04,413.11 488.49,413.77 493.95,414.43 499.40,412.87 504.86,413.21 510.31,413.16 515.76,412.89 521.22,413.29 526.67,413.04 532.13,412.97 537.58,413.32 543.03,412.93 548.49,413.09 553.94,413.27 559.40,412.87 564.85,413.21"/>
<polyline fill="none" stroke="#ff0000" stroke-width="1.0" stroke-linejoin="round" points="428.50,406.50 433.95,412.12 439.41,417.31 444.86,422.11 450.32,426.53 455.77,430.63 461.22,434.41 466.68,437.90 472.13,441.12 477.59,444.10 483.04,446.86 488.49,449.40 493.95,451.75 499.40,453.93 504.86,455.94 510.31,457.80 515.76,459.51 521.22,461.10 526.67,462.57 532.13,463.93 537.58,465.19 543.03,466.35 548.49,467.43 553.94,468.42 559.40,469.35 564.85,470.20"/>
<circle cx="428.50" cy="406.50" r="1.3" fill="#0000ff" stroke="none" stroke-width="1"/>
<circle cx="433.95" cy="407.16" r="1.3" fill="#0000ff" stroke="none" stroke-width="1"/>
<circle cx="439.41" cy="407.82" r="1.3" fill="#0000ff" stroke="none" stroke-width="1"/>
<circle cx="444.86" cy="408.48" r="1.3" fill="#0000ff" stroke="none" stroke-width="1"/>
<circle cx="450.32" cy="409.14" r="1.3" fill="#0000ff" stroke="none" stroke-width="1"/>
<circle cx="455.77" cy="409.81" r="1.3" fill="#0000ff" stroke="none" stroke-width="1"/>
<circle cx="461.22" cy="410.47" r="1.3" fill="#0000ff" stroke="none" stroke-width="1"/>
<circle cx="466.68" cy="411.13" r="1.3" fill="#0000ff" stroke="none" stroke-width="1"/>
<circle cx="472.13" cy="411.79" r="1.3" fill="#0000ff" stroke="none" stroke-width="1"/>
<circle cx="477.59" cy="412.45" r="1.3" fill="#0000ff" stroke="none" stroke-width="1"/>
<circle cx="483.04" cy="413.11" r="1.3" fill="#0000ff" stroke="none" stroke-width="1"/>
<line x1="488.49" y1="412.01" x2="488.49" y2="415.53" stroke="#0000ff" stroke-width="1.1"/>
<circle cx="488.49" cy="413.77" r="1.3" fill="#0000ff" stroke="none" stroke-width="1"/>
<line x1="493.95" y1="412.56" x2="493.95" y2="416.31" stroke="#0000ff" stroke-width="1.1"/>
<circle cx="493.95" cy="414.43" r="1.3" fill="#0000ff" stroke="none" stroke-width="1"/>
<line x1="499.40" y1="410.88" x2="499.40" y2="414.87" stroke="#0000ff" stroke-width="1.1"/>
<circle cx="499.40" cy="412.87" r="1.3" fill="#0000ff" stroke="none" stroke-width="1"/>
<line x1="504.86" y1="411.09" x2="504.86" y2="415.33" stroke="#0000ff" stroke-width="1.1"/>
<circle cx="504.86" cy="413.21" r="1.3" fill="#0000ff" stroke="none" stroke-width="1"/>
<line x1="510.31" y1="410.93" x2="510.31" y2="415.40" stroke="#0000ff" stroke-width="1.1"/>
<circle cx="510.31" cy="413.16" r="1.3" fill="#0000ff" stroke="none" stroke-width="1"/>
<line x1="515.76" y1="410.65" x2="515.76" y2="415.12" stroke="#0000ff" stroke-width="1.1"/>
<circle cx="515.76" cy="412.89" r="1.3" fill="#0000ff" stroke="none" stroke-width="1"/>
<line x1="521.22" y1="411.06" x2="521.22" y2="415.53" stroke="#0000ff" stroke-width="1.1"/>
<circle cx="521.22" cy="413.29" r="1.3" fill="#0000ff" stroke="none" stroke-width="1"/>
<line x1="526.67" y1="410.80" x2="526.67" y2="415.27" stroke="#0000ff" stroke-width="1.1"/>
<circle cx="526.67" cy="413.04" r="1.3" fill="#0000ff" stroke="none" stroke-width="1"/>
<line x1="532.13" y1="410.73" x2="532.13" y2="415.20" stroke="#0000ff" stroke-width="1.1"/>
<circle cx="532.13" cy="412.97" r="1.3" fill="#0000ff" stroke="none" stroke-width="1"/>
<line x1="537.58" y1="411.08" x2="537.58" y2="415.55" stroke="#0000ff" stroke-width="1.1"/>
<circle cx="537.58" cy="413.32" r="1.3" fill="#0000ff" stroke="none" stroke-width="1"/>
<line x1="543.03" y1="410.69" x2="543.03" y2="415.16" stroke="#0000ff" stroke-width="1.1"/>
<circle cx="543.03" cy="412.93" r="1.3" fill="#0000ff" stroke="none" stroke-width="1"/>
<line x1="548.49" y1="410.85" x2="548.49" y2="415.32" stroke="#0000ff" stroke-width="1.1"/>
<circle cx="548.49" cy="413.09" r="1.3" fill="#0000ff" stroke="none" stroke-width="1"/>
<line x1="553.94" y1="411.03" x2="553.94" y2="415.50" stroke="#0000ff" stroke-width="1.1"/>
<circle cx="553.94" cy="413.27" r="1.3" fill="#0000ff" stroke="none" stroke-width="1"/>
<line x1="559.40" y1="410.64" x2="559.40" y2="415.11" stroke="#0000ff" stroke-width="1.1"/>
<circle cx="559.40" cy="412.87" r="1.3" fill="#0000ff" stroke="none" stroke-width="1"/>
<line x1="564.85" y1="410.97" x2="564.85" y2="415.44" stroke="#0000ff" stroke-width="1.1"/>
<circle cx="564.85" cy="413.21" r="1.3" fill="#0000ff" stroke="none" stroke-width="1"/>
<circle cx="428.50" cy="406.50" r="1.3" fill="#ff0000" stroke="none" stroke-width="1"/>
<circle cx="433.95" cy="412.12" r="1.3" fill="#ff0000" stroke="none" stroke-width="1"/>
<circle cx="439.41" cy="417.31" r="1.3" fill="#ff0000" stroke="none" stroke-width="1"/>
<circle cx="444.86" cy="422.11" r="1.3" fill="#ff0000" stroke="none" stroke-width="1"/>
<circle cx="450.32" cy="426.53" r="1.3" fill="#ff0000" stroke="none" stroke-width="1"/>
<circle cx="455.77" cy="430.63" r="1.3" fill="#ff0000" stroke="none" stroke-width="1"/>
<circle cx="461.22" cy="434.41" r="1.3" fill="#ff0000" stroke="none" stroke-width="1"/>
<line x1="466.68" y1="436.65" x2="466.68" y2="439.15" stroke="#ff0000" stroke-width="1.1"/>
<circle cx="466.68" cy="437.90" r="1.3" fill="#ff0000" stroke="none" stroke-width="1"/>
<line x1="472.13" y1="439.69" x2="472.13" y2="442.55" stroke="#ff0000" stroke-width="1.1"/>
<circle cx="472.13" cy="441.12" r="1.3" fill="#ff0000" stroke="none" stroke-width="1"/>
<line x1="477.59" y1="442.49" x2="477.59" y2="445.71" stroke="#ff0000" stroke-width="1.1"/>
<circle cx="477.59" cy="444.10" r="1.3" fill="#ff0000" stroke="none" stroke-width="1"/>
<line x1="483.04" y1="445.07" x2="483.04" y2="448.64" stroke="#ff0000" stroke-width="1.1"/>
<circle cx="483.04" cy="446.86" r="1.3" fill="#ff0000" stroke="none" stroke-width="1"/>
<line x1="488.49" y1="447.44" x2="488.49" y2="451.37" stroke="#ff0000" stroke-width="1.1"/>
<circle cx="488.49" cy="449.40" r="1.3" fill="#ff0000" stroke="none" stroke-width="1"/>
<line x1="493.95" y1="449.61" x2="493.95" y2="453.90" stroke="#ff0000" stroke-width="1.1"/>
<circle cx="493.95" cy="451.75" r="1.3" fill="#ff0000" stroke="none" stroke-width="1"/>
<line x1="499.40" y1="451.60" x2="499.40" y2="456.25" stroke="#ff0000" stroke-width="1.1"/>
<circle cx="499.40" cy="453.93" r="1.3" fill="#ff0000" stroke="none" stroke-width="1"/>
<line x1="504.86" y1="453.43" x2="504.86" y2="458.44" stroke="#ff0000" stroke-width="1.1"/>
<circle cx="504.86" cy="455.94" r="1.3" fill="#ff0000" stroke="none" stroke-width="1"/>
<line x1="510.31" y1="455.11" x2="510.31" y2="460.48" stroke="#ff0000" stroke-width="1.1"/>
<circle cx="510.31" cy="457.80" r="1.3" fill="#ff0000" stroke="none" stroke-width="1"/>
<line x1="515.76" y1="456.83" x2="515.76" y2="462.20" stroke="#ff0000" stroke-width="1.1"/>
<circle cx="515.76" cy="459.51" r="1.3" fill="#ff0000" stroke="none" stroke-width="1"/>
<line x1="521.22" y1="458.42" x2="521.22" y2="463.78" stroke="#ff0000" stroke-width="1.1"/>
<circle cx="521.22" cy="461.10" r="1.3" fill="#ff0000" stroke="none" stroke-width="1"/>
<line x1="526.67" y1="459.89" x2="526.67" y2="465.25" stroke="#ff0000" stroke-width="1.1"/>
<circle cx="526.67" cy="462.57" r="1.3" fill="#ff0000" stroke="none" stroke-width="1"/>
<line x1="532.13" y1="461.25" x2="532.13" y2="466.61" stroke="#ff0000" stroke-width="1.1"/>
<circle cx="532.13" cy="463.93" r="1.3" fill="#ff0000" stroke="none" stroke-width="1"/>
<line x1="537.58" y1="462.51" x2="537.58" y2="467.87" stroke="#ff0000" stroke-width="1.1"/>
<circle cx="537.58" cy="465.19" r="1.3" fill="#ff0000" stroke="none" stroke-width="1"/>
<line x1="543.03" y1="463.67" x2="543.03" y2="469.03" stroke="#ff0000" stroke-width="1.1"/>
<circle cx="543.03" cy="466.35" r="1.3" fill="#ff0000" stroke="none" stroke-width="1"/>
<line x1="548.49" y1="464.75" x2="548.49" y2="470.11" stroke="#ff0000" stroke-width="1.1"/>
<circle cx="548.49" cy="467.43" r="1.3" fill="#ff0000" stroke="none" stroke-width="1"/>
<line x1="553.94" y1="465.74" x2="553.94" y2="471.11" stroke="#ff0000" stroke-width="1.1"/>
<circle cx="553.94" cy="468.42" r="1.3" fill="#ff0000" stroke="none" stroke-width="1"/>
<line x1="559.40" y1="466.66" x2="559.40" y2="472.03" stroke="#ff0000" stroke-width="1.1"/>
<circle cx="559.40" cy="469.35" r="1.3" fill="#ff0000" stroke="none" stroke-width="1"/>
<line x1="564.85" y1="467.52" x2="564.85" y2="472.88" stroke="#ff0000" stroke-width="1.1"/>
<circle cx="564.85" cy="470.20" r="1.3" fill="#ff0000" stroke="none" stroke-width="1"/>
<line x1="517.40" y1="381.20" x2="528.40" y2="381.20" stroke="#0000ff" stroke-width="1.0"/>
<circle cx="522.90" cy="381.20" r="1.2" fill="#0000ff" stroke="none" stroke-width="1"/>
<text x="535.80" y="384.63" font-size="9.3" transform="rotate(0.04 535.80 384.63)" stroke="#000000" stroke-width="0.18">EV</text>
<line x1="517.40" y1="396.40" x2="528.40" y2="396.40" stroke="#ff0000" stroke-width="1.0"/>
<circle cx="522.90" cy="396.40" r="1.2" fill="#ff0000" stroke="none" stroke-width="1"/>
<text x="535.80" y="399.83" font-size="9.3" transform="rotate(0.04 535.80 399.83)" stroke="#000000" stroke-width="0.18">EDNRB OE</text>
<line x1="612.30" y1="378.43" x2="612.30" y2="474.38" stroke="#000000" stroke-width="1.15"/>
<line x1="611.72" y1="473.80" x2="678.40" y2="473.80" stroke="#000000" stroke-width="1.15"/>
<line x1="609.30" y1="473.80" x2="612.30" y2="473.80" stroke="#000000" stroke-width="1.15"/>
<text x="608.10" y="476.20" font-size="6.7" font-weight="bold" text-anchor="end" transform="rotate(0.04 608.10 476.20)">0</text>
<line x1="609.30" y1="450.10" x2="612.30" y2="450.10" stroke="#000000" stroke-width="1.15"/>
<text x="608.10" y="452.50" font-size="6.7" font-weight="bold" text-anchor="end" transform="rotate(0.04 608.10 452.50)">10</text>
<line x1="609.30" y1="426.40" x2="612.30" y2="426.40" stroke="#000000" stroke-width="1.15"/>
<text x="608.10" y="428.80" font-size="6.7" font-weight="bold" text-anchor="end" transform="rotate(0.04 608.10 428.80)">20</text>
<line x1="609.30" y1="402.70" x2="612.30" y2="402.70" stroke="#000000" stroke-width="1.15"/>
<text x="608.10" y="405.10" font-size="6.7" font-weight="bold" text-anchor="end" transform="rotate(0.04 608.10 405.10)">30</text>
<line x1="609.30" y1="379.00" x2="612.30" y2="379.00" stroke="#000000" stroke-width="1.15"/>
<text x="608.10" y="381.40" font-size="6.7" font-weight="bold" text-anchor="end" transform="rotate(0.04 608.10 381.40)">40</text>
<line x1="631.00" y1="473.80" x2="631.00" y2="476.70" stroke="#000000" stroke-width="1.15"/>
<line x1="659.50" y1="473.80" x2="659.50" y2="476.70" stroke="#000000" stroke-width="1.15"/>
<text x="595.56" y="426.60" font-size="9.1" text-anchor="middle" transform="rotate(-90 595.56 426.60)" font-weight="bold" textLength="98.4" lengthAdjust="spacingAndGlyphs">AAC of thermogenesis</text>
<path d="M622.48 473.80V468.38H639.92V473.80" fill="none" stroke="#0000ff" stroke-width="1.15"/>
<path d="M650.88 473.80V429.68H668.22V473.80" fill="none" stroke="#ff0000" stroke-width="1.15"/>
<line x1="631.00" y1="467.00" x2="631.00" y2="469.40" stroke="#0000ff" stroke-width="0.9"/>
<line x1="626.50" y1="467.00" x2="635.50" y2="467.00" stroke="#0000ff" stroke-width="0.9"/>
<line x1="626.50" y1="469.40" x2="635.50" y2="469.40" stroke="#0000ff" stroke-width="0.9"/>
<line x1="659.50" y1="428.30" x2="659.50" y2="431.00" stroke="#ff0000" stroke-width="0.9"/>
<line x1="655.00" y1="428.30" x2="664.00" y2="428.30" stroke="#ff0000" stroke-width="0.9"/>
<line x1="655.00" y1="431.00" x2="664.00" y2="431.00" stroke="#ff0000" stroke-width="0.9"/>
<circle cx="631.00" cy="453.70" r="1.15" fill="#0000ff" stroke="none" stroke-width="1"/>
<circle cx="630.30" cy="462.70" r="1.15" fill="#0000ff" stroke="none" stroke-width="1"/>
<circle cx="631.40" cy="464.20" r="1.15" fill="#0000ff" stroke="none" stroke-width="1"/>
<circle cx="629.60" cy="465.60" r="1.15" fill="#0000ff" stroke="none" stroke-width="1"/>
<circle cx="632.40" cy="465.90" r="1.15" fill="#0000ff" stroke="none" stroke-width="1"/>
<circle cx="623.40" cy="466.80" r="1.15" fill="#0000ff" stroke="none" stroke-width="1"/>
<circle cx="629.21" cy="469.35" r="1.15" fill="#0000ff" stroke="none" stroke-width="1"/>
<circle cx="635.02" cy="471.90" r="1.15" fill="#0000ff" stroke="none" stroke-width="1"/>
<circle cx="624.23" cy="468.50" r="1.15" fill="#0000ff" stroke="none" stroke-width="1"/>
<circle cx="630.04" cy="471.05" r="1.15" fill="#0000ff" stroke="none" stroke-width="1"/>
<circle cx="635.85" cy="467.65" r="1.15" fill="#0000ff" stroke="none" stroke-width="1"/>
<circle cx="625.06" cy="470.20" r="1.15" fill="#0000ff" stroke="none" stroke-width="1"/>
<circle cx="630.87" cy="466.80" r="1.15" fill="#0000ff" stroke="none" stroke-width="1"/>
<circle cx="636.68" cy="469.35" r="1.15" fill="#0000ff" stroke="none" stroke-width="1"/>
<circle cx="625.89" cy="471.90" r="1.15" fill="#0000ff" stroke="none" stroke-width="1"/>
<circle cx="631.70" cy="468.50" r="1.15" fill="#0000ff" stroke="none" stroke-width="1"/>
<circle cx="637.51" cy="471.05" r="1.15" fill="#0000ff" stroke="none" stroke-width="1"/>
<circle cx="626.72" cy="467.65" r="1.15" fill="#0000ff" stroke="none" stroke-width="1"/>
<circle cx="632.53" cy="470.20" r="1.15" fill="#0000ff" stroke="none" stroke-width="1"/>
<circle cx="638.34" cy="466.80" r="1.15" fill="#0000ff" stroke="none" stroke-width="1"/>
<circle cx="627.55" cy="469.35" r="1.15" fill="#0000ff" stroke="none" stroke-width="1"/>
<circle cx="633.36" cy="471.90" r="1.15" fill="#0000ff" stroke="none" stroke-width="1"/>
<circle cx="639.17" cy="468.50" r="1.15" fill="#0000ff" stroke="none" stroke-width="1"/>
<circle cx="628.38" cy="471.05" r="1.15" fill="#0000ff" stroke="none" stroke-width="1"/>
<circle cx="634.19" cy="467.65" r="1.15" fill="#0000ff" stroke="none" stroke-width="1"/>
<circle cx="655.10" cy="417.40" r="1.15" fill="#ff0000" stroke="none" stroke-width="1"/>
<circle cx="663.80" cy="417.20" r="1.15" fill="#ff0000" stroke="none" stroke-width="1"/>
<circle cx="659.50" cy="418.90" r="1.15" fill="#ff0000" stroke="none" stroke-width="1"/>
<circle cx="659.50" cy="421.00" r="1.15" fill="#ff0000" stroke="none" stroke-width="1"/>
<circle cx="655.10" cy="424.00" r="1.15" fill="#ff0000" stroke="none" stroke-width="1"/>
<circle cx="659.50" cy="424.20" r="1.15" fill="#ff0000" stroke="none" stroke-width="1"/>
<circle cx="663.80" cy="424.00" r="1.15" fill="#ff0000" stroke="none" stroke-width="1"/>
<circle cx="659.50" cy="426.20" r="1.15" fill="#ff0000" stroke="none" stroke-width="1"/>
<circle cx="656.60" cy="428.00" r="1.15" fill="#ff0000" stroke="none" stroke-width="1"/>
<circle cx="662.40" cy="428.20" r="1.15" fill="#ff0000" stroke="none" stroke-width="1"/>
<circle cx="654.40" cy="430.00" r="1.15" fill="#ff0000" stroke="none" stroke-width="1"/>
<circle cx="659.50" cy="429.40" r="1.15" fill="#ff0000" stroke="none" stroke-width="1"/>
<circle cx="664.60" cy="430.20" r="1.15" fill="#ff0000" stroke="none" stroke-width="1"/>
<circle cx="657.40" cy="431.60" r="1.15" fill="#ff0000" stroke="none" stroke-width="1"/>
<circle cx="661.60" cy="431.80" r="1.15" fill="#ff0000" stroke="none" stroke-width="1"/>
<circle cx="659.50" cy="433.20" r="1.15" fill="#ff0000" stroke="none" stroke-width="1"/>
<circle cx="655.10" cy="433.50" r="1.15" fill="#ff0000" stroke="none" stroke-width="1"/>
<circle cx="663.80" cy="433.50" r="1.15" fill="#ff0000" stroke="none" stroke-width="1"/>
<circle cx="655.10" cy="436.40" r="1.15" fill="#ff0000" stroke="none" stroke-width="1"/>
<circle cx="663.80" cy="436.40" r="1.15" fill="#ff0000" stroke="none" stroke-width="1"/>
<circle cx="659.50" cy="437.90" r="1.15" fill="#ff0000" stroke="none" stroke-width="1"/>
<circle cx="659.50" cy="441.50" r="1.15" fill="#ff0000" stroke="none" stroke-width="1"/>
<circle cx="659.50" cy="443.70" r="1.15" fill="#ff0000" stroke="none" stroke-width="1"/>
<text x="645.10" y="402.10" font-size="6.7" text-anchor="middle" transform="rotate(0.04 645.10 402.10)" fill="#333" textLength="28.8" lengthAdjust="spacingAndGlyphs">P &lt;0.0001</text>
<line x1="631.70" y1="405.90" x2="659.00" y2="405.90" stroke="#7a7a7a" stroke-width="1.35"/>
<text x="633.60" y="484.90" font-size="7.7" font-weight="bold" text-anchor="end" transform="rotate(-45 633.60 484.90)">EV</text>
<text x="662.20" y="484.90" font-size="7.6" font-weight="bold" text-anchor="end" transform="rotate(-45 662.20 484.90)">EDNRB OE</text>
<text x="-2.40" y="16.60" font-size="26.8" font-weight="bold" transform="rotate(0.04 -2.40 16.60)">a</text>
<g id="panel-a">
<defs><clipPath id="cpBlob"><path d="M40.3 84 C40.3 75 43.5 70.5 48 68 C56 63.8 68 62.5 77 59 C88 54.5 100 50.6 118 50.5 C131 50.5 139 60 143.2 68.5 C146.4 76 146.2 85 143.6 91.5 C140.6 98.5 135 103 128 105.5 C118 109 106 111 96 111 C84 111 68 109.6 57.8 106.6 C48 103.5 40.3 95 40.3 84Z"/></clipPath></defs>
<path d="M40.3 84 C40.3 75 43.5 70.5 48 68 C56 63.8 68 62.5 77 59 C88 54.5 100 50.6 118 50.5 C131 50.5 139 60 143.2 68.5 C146.4 76 146.2 85 143.6 91.5 C140.6 98.5 135 103 128 105.5 C118 109 106 111 96 111 C84 111 68 109.6 57.8 106.6 C48 103.5 40.3 95 40.3 84Z" fill="#ecf2fa" stroke="#c6d5e7" stroke-width="0.7"/>
<ellipse cx="50.6" cy="70.6" rx="6.2" ry="3.6" fill="#d6e3f1" stroke="#c3d3e6" stroke-width="0.4" transform="rotate(-32 50.6 70.6)"/>
<circle cx="117.5" cy="108.6" r="15.2" fill="#d8e5f1" clip-path="url(#cpBlob)"/>
<defs><clipPath id="cpTop"><rect x="0" y="60" width="200" height="24.7"/></clipPath><clipPath id="cpBot"><rect x="0" y="84.7" width="200" height="30"/></clipPath></defs>
<line x1="9.50" y1="81.20" x2="9.50" y2="84.90" stroke="#4a84b2" stroke-width="0.9"/>
<line x1="9.50" y1="84.90" x2="9.50" y2="88.20" stroke="#2c2c84" stroke-width="0.9"/>
<line x1="11.50" y1="81.20" x2="11.50" y2="84.90" stroke="#4a84b2" stroke-width="0.9"/>
<line x1="11.50" y1="84.90" x2="11.50" y2="88.20" stroke="#2c2c84" stroke-width="0.9"/>
<line x1="13.50" y1="81.20" x2="13.50" y2="84.90" stroke="#4a84b2" stroke-width="0.9"/>
<line x1="13.50" y1="84.90" x2="13.50" y2="88.20" stroke="#2c2c84" stroke-width="0.9"/>
<line x1="15.50" y1="81.20" x2="15.50" y2="84.90" stroke="#4a84b2" stroke-width="0.9"/>
<line x1="15.50" y1="84.90" x2="15.50" y2="88.20" stroke="#2c2c84" stroke-width="0.9"/>
<line x1="17.50" y1="81.20" x2="17.50" y2="84.90" stroke="#4a84b2" stroke-width="0.9"/>
<line x1="17.50" y1="84.90" x2="17.50" y2="88.20" stroke="#2c2c84" stroke-width="0.9"/>
<line x1="19.50" y1="81.20" x2="19.50" y2="84.90" stroke="#4a84b2" stroke-width="0.9"/>
<line x1="19.50" y1="84.90" x2="19.50" y2="88.20" stroke="#2c2c84" stroke-width="0.9"/>
<line x1="21.50" y1="81.20" x2="21.50" y2="84.90" stroke="#4a84b2" stroke-width="0.9"/>
<line x1="21.50" y1="84.90" x2="21.50" y2="88.20" stroke="#2c2c84" stroke-width="0.9"/>
<line x1="23.50" y1="81.20" x2="23.50" y2="84.90" stroke="#4a84b2" stroke-width="0.9"/>
<line x1="23.50" y1="84.90" x2="23.50" y2="88.20" stroke="#2c2c84" stroke-width="0.9"/>
<line x1="25.50" y1="81.20" x2="25.50" y2="84.90" stroke="#4a84b2" stroke-width="0.9"/>
<line x1="25.50" y1="84.90" x2="25.50" y2="88.20" stroke="#2c2c84" stroke-width="0.9"/>
<line x1="27.50" y1="81.20" x2="27.50" y2="84.90" stroke="#4a84b2" stroke-width="0.9"/>
<line x1="27.50" y1="84.90" x2="27.50" y2="88.20" stroke="#2c2c84" stroke-width="0.9"/>
<line x1="29.50" y1="81.20" x2="29.50" y2="84.90" stroke="#4a84b2" stroke-width="0.9"/>
<line x1="29.50" y1="84.90" x2="29.50" y2="88.20" stroke="#2c2c84" stroke-width="0.9"/>
<line x1="31.50" y1="81.20" x2="31.50" y2="84.90" stroke="#4a84b2" stroke-width="0.9"/>
<line x1="31.50" y1="84.90" x2="31.50" y2="88.20" stroke="#2c2c84" stroke-width="0.9"/>
<line x1="33.50" y1="81.20" x2="33.50" y2="84.90" stroke="#4a84b2" stroke-width="0.9"/>
<line x1="33.50" y1="84.90" x2="33.50" y2="88.20" stroke="#2c2c84" stroke-width="0.9"/>
<line x1="35.50" y1="81.20" x2="35.50" y2="84.90" stroke="#4a84b2" stroke-width="0.9"/>
<line x1="35.50" y1="84.90" x2="35.50" y2="88.20" stroke="#2c2c84" stroke-width="0.9"/>
<line x1="37.50" y1="81.20" x2="37.50" y2="84.90" stroke="#4a84b2" stroke-width="0.9"/>
<line x1="37.50" y1="84.90" x2="37.50" y2="88.20" stroke="#2c2c84" stroke-width="0.9"/>
<line x1="39.50" y1="81.20" x2="39.50" y2="84.90" stroke="#4a84b2" stroke-width="0.9"/>
<line x1="39.50" y1="84.90" x2="39.50" y2="88.20" stroke="#2c2c84" stroke-width="0.9"/>
<line x1="41.50" y1="81.20" x2="41.50" y2="84.90" stroke="#4a84b2" stroke-width="0.9"/>
<line x1="41.50" y1="84.90" x2="41.50" y2="88.20" stroke="#2c2c84" stroke-width="0.9"/>
<line x1="43.50" y1="81.20" x2="43.50" y2="84.90" stroke="#4a84b2" stroke-width="0.9"/>
<line x1="43.50" y1="84.90" x2="43.50" y2="88.20" stroke="#2c2c84" stroke-width="0.9"/>
<line x1="45.50" y1="81.20" x2="45.50" y2="84.90" stroke="#4a84b2" stroke-width="0.9"/>
<line x1="45.50" y1="84.90" x2="45.50" y2="88.20" stroke="#2c2c84" stroke-width="0.9"/>
<line x1="47.50" y1="81.20" x2="47.50" y2="84.90" stroke="#4a84b2" stroke-width="0.9"/>
<line x1="47.50" y1="84.90" x2="47.50" y2="88.20" stroke="#2c2c84" stroke-width="0.9"/>
<line x1="109.50" y1="81.20" x2="109.50" y2="84.90" stroke="#4a84b2" stroke-width="0.9"/>
<line x1="109.50" y1="84.90" x2="109.50" y2="88.20" stroke="#2c2c84" stroke-width="0.9"/>
<line x1="111.50" y1="81.20" x2="111.50" y2="84.90" stroke="#4a84b2" stroke-width="0.9"/>
<line x1="111.50" y1="84.90" x2="111.50" y2="88.20" stroke="#2c2c84" stroke-width="0.9"/>
<line x1="113.50" y1="81.20" x2="113.50" y2="84.90" stroke="#4a84b2" stroke-width="0.9"/>
<line x1="113.50" y1="84.90" x2="113.50" y2="88.20" stroke="#2c2c84" stroke-width="0.9"/>
<line x1="115.50" y1="81.20" x2="115.50" y2="84.90" stroke="#4a84b2" stroke-width="0.9"/>
<line x1="115.50" y1="84.90" x2="115.50" y2="88.20" stroke="#2c2c84" stroke-width="0.9"/>
<line x1="117.50" y1="81.20" x2="117.50" y2="84.90" stroke="#4a84b2" stroke-width="0.9"/>
<line x1="117.50" y1="84.90" x2="117.50" y2="88.20" stroke="#2c2c84" stroke-width="0.9"/>
<line x1="119.50" y1="81.20" x2="119.50" y2="84.90" stroke="#4a84b2" stroke-width="0.9"/>
<line x1="119.50" y1="84.90" x2="119.50" y2="88.20" stroke="#2c2c84" stroke-width="0.9"/>
<line x1="121.50" y1="81.20" x2="121.50" y2="84.90" stroke="#4a84b2" stroke-width="0.9"/>
<line x1="121.50" y1="84.90" x2="121.50" y2="88.20" stroke="#2c2c84" stroke-width="0.9"/>
<line x1="123.50" y1="81.20" x2="123.50" y2="84.90" stroke="#4a84b2" stroke-width="0.9"/>
<line x1="123.50" y1="84.90" x2="123.50" y2="88.20" stroke="#2c2c84" stroke-width="0.9"/>
<line x1="125.50" y1="81.20" x2="125.50" y2="84.90" stroke="#4a84b2" stroke-width="0.9"/>
<line x1="125.50" y1="84.90" x2="125.50" y2="88.20" stroke="#2c2c84" stroke-width="0.9"/>
<line x1="127.50" y1="81.20" x2="127.50" y2="84.90" stroke="#4a84b2" stroke-width="0.9"/>
<line x1="127.50" y1="84.90" x2="127.50" y2="88.20" stroke="#2c2c84" stroke-width="0.9"/>
<line x1="129.50" y1="81.20" x2="129.50" y2="84.90" stroke="#4a84b2" stroke-width="0.9"/>
<line x1="129.50" y1="84.90" x2="129.50" y2="88.20" stroke="#2c2c84" stroke-width="0.9"/>
<line x1="131.50" y1="81.20" x2="131.50" y2="84.90" stroke="#4a84b2" stroke-width="0.9"/>
<line x1="131.50" y1="84.90" x2="131.50" y2="88.20" stroke="#2c2c84" stroke-width="0.9"/>
<line x1="133.50" y1="81.20" x2="133.50" y2="84.90" stroke="#4a84b2" stroke-width="0.9"/>
<line x1="133.50" y1="84.90" x2="133.50" y2="88.20" stroke="#2c2c84" stroke-width="0.9"/>
<line x1="135.50" y1="81.20" x2="135.50" y2="84.90" stroke="#4a84b2" stroke-width="0.9"/>
<line x1="135.50" y1="84.90" x2="135.50" y2="88.20" stroke="#2c2c84" stroke-width="0.9"/>
<line x1="137.50" y1="81.20" x2="137.50" y2="84.90" stroke="#4a84b2" stroke-width="0.9"/>
<line x1="137.50" y1="84.90" x2="137.50" y2="88.20" stroke="#2c2c84" stroke-width="0.9"/>
<line x1="139.50" y1="81.20" x2="139.50" y2="84.90" stroke="#4a84b2" stroke-width="0.9"/>
<line x1="139.50" y1="84.90" x2="139.50" y2="88.20" stroke="#2c2c84" stroke-width="0.9"/>
<line x1="141.50" y1="81.20" x2="141.50" y2="84.90" stroke="#4a84b2" stroke-width="0.9"/>
<line x1="141.50" y1="84.90" x2="141.50" y2="88.20" stroke="#2c2c84" stroke-width="0.9"/>
<line x1="143.50" y1="81.20" x2="143.50" y2="84.90" stroke="#4a84b2" stroke-width="0.9"/>
<line x1="143.50" y1="84.90" x2="143.50" y2="88.20" stroke="#2c2c84" stroke-width="0.9"/>
<line x1="145.50" y1="81.20" x2="145.50" y2="84.90" stroke="#4a84b2" stroke-width="0.9"/>
<line x1="145.50" y1="84.90" x2="145.50" y2="88.20" stroke="#2c2c84" stroke-width="0.9"/>
<line x1="147.50" y1="81.20" x2="147.50" y2="84.90" stroke="#4a84b2" stroke-width="0.9"/>
<line x1="147.50" y1="84.90" x2="147.50" y2="88.20" stroke="#2c2c84" stroke-width="0.9"/>
<line x1="149.50" y1="81.20" x2="149.50" y2="84.90" stroke="#4a84b2" stroke-width="0.9"/>
<line x1="149.50" y1="84.90" x2="149.50" y2="88.20" stroke="#2c2c84" stroke-width="0.9"/>
<line x1="151.50" y1="81.20" x2="151.50" y2="84.90" stroke="#4a84b2" stroke-width="0.9"/>
<line x1="151.50" y1="84.90" x2="151.50" y2="88.20" stroke="#2c2c84" stroke-width="0.9"/>
<line x1="153.50" y1="81.20" x2="153.50" y2="84.90" stroke="#4a84b2" stroke-width="0.9"/>
<line x1="153.50" y1="84.90" x2="153.50" y2="88.20" stroke="#2c2c84" stroke-width="0.9"/>
<line x1="155.50" y1="81.20" x2="155.50" y2="84.90" stroke="#4a84b2" stroke-width="0.9"/>
<line x1="155.50" y1="84.90" x2="155.50" y2="88.20" stroke="#2c2c84" stroke-width="0.9"/>
<line x1="157.50" y1="81.20" x2="157.50" y2="84.90" stroke="#4a84b2" stroke-width="0.9"/>
<line x1="157.50" y1="84.90" x2="157.50" y2="88.20" stroke="#2c2c84" stroke-width="0.9"/>
<line x1="49.50" y1="80.69" x2="50.49" y2="83.52" stroke="#3e78a8" stroke-width="0.8"/>
<line x1="49.50" y1="89.02" x2="50.62" y2="86.24" stroke="#1b1b70" stroke-width="0.8"/>
<line x1="51.50" y1="79.66" x2="53.14" y2="82.18" stroke="#3e78a8" stroke-width="0.8"/>
<line x1="51.50" y1="90.02" x2="53.02" y2="87.43" stroke="#1b1b70" stroke-width="0.8"/>
<line x1="53.50" y1="78.15" x2="55.42" y2="80.45" stroke="#3e78a8" stroke-width="0.8"/>
<line x1="53.50" y1="91.32" x2="55.21" y2="88.85" stroke="#1b1b70" stroke-width="0.8"/>
<line x1="55.50" y1="76.39" x2="57.51" y2="78.63" stroke="#3e78a8" stroke-width="0.8"/>
<line x1="55.50" y1="92.74" x2="57.26" y2="90.31" stroke="#1b1b70" stroke-width="0.8"/>
<line x1="57.50" y1="74.63" x2="59.43" y2="76.93" stroke="#3e78a8" stroke-width="0.8"/>
<line x1="57.50" y1="94.16" x2="59.18" y2="91.67" stroke="#1b1b70" stroke-width="0.8"/>
<line x1="59.50" y1="73.10" x2="61.16" y2="75.60" stroke="#3e78a8" stroke-width="0.8"/>
<line x1="59.50" y1="95.41" x2="60.95" y2="92.78" stroke="#1b1b70" stroke-width="0.8"/>
<line x1="61.50" y1="72.05" x2="62.54" y2="74.86" stroke="#3e78a8" stroke-width="0.8"/>
<line x1="61.50" y1="96.33" x2="62.51" y2="93.50" stroke="#1b1b70" stroke-width="0.8"/>
<line x1="63.50" y1="71.70" x2="63.53" y2="74.70" stroke="#3e78a8" stroke-width="0.8"/>
<line x1="63.50" y1="96.78" x2="63.74" y2="93.79" stroke="#1b1b70" stroke-width="0.8"/>
<line x1="65.50" y1="71.70" x2="65.50" y2="74.70" stroke="#3e78a8" stroke-width="0.8"/>
<line x1="65.50" y1="96.80" x2="65.50" y2="93.80" stroke="#1b1b70" stroke-width="0.8"/>
<line x1="67.50" y1="71.70" x2="67.50" y2="74.70" stroke="#3e78a8" stroke-width="0.8"/>
<line x1="67.50" y1="96.80" x2="67.50" y2="93.80" stroke="#1b1b70" stroke-width="0.8"/>
<line x1="69.50" y1="71.70" x2="69.50" y2="74.70" stroke="#3e78a8" stroke-width="0.8"/>
<line x1="69.50" y1="96.80" x2="69.50" y2="93.80" stroke="#1b1b70" stroke-width="0.8"/>
<line x1="71.50" y1="71.70" x2="71.50" y2="74.70" stroke="#3e78a8" stroke-width="0.8"/>
<line x1="71.50" y1="96.80" x2="71.50" y2="93.80" stroke="#1b1b70" stroke-width="0.8"/>
<line x1="73.50" y1="71.70" x2="73.50" y2="74.70" stroke="#3e78a8" stroke-width="0.8"/>
<line x1="73.50" y1="96.80" x2="73.50" y2="93.80" stroke="#1b1b70" stroke-width="0.8"/>
<line x1="75.50" y1="71.70" x2="75.50" y2="74.70" stroke="#3e78a8" stroke-width="0.8"/>
<line x1="75.50" y1="96.80" x2="75.50" y2="93.80" stroke="#1b1b70" stroke-width="0.8"/>
<line x1="77.50" y1="71.70" x2="77.50" y2="74.70" stroke="#3e78a8" stroke-width="0.8"/>
<line x1="77.50" y1="96.80" x2="77.50" y2="93.80" stroke="#1b1b70" stroke-width="0.8"/>
<line x1="79.50" y1="71.70" x2="79.50" y2="74.70" stroke="#3e78a8" stroke-width="0.8"/>
<line x1="79.50" y1="96.80" x2="79.50" y2="93.80" stroke="#1b1b70" stroke-width="0.8"/>
<line x1="81.50" y1="71.70" x2="81.50" y2="74.70" stroke="#3e78a8" stroke-width="0.8"/>
<line x1="81.50" y1="96.80" x2="81.50" y2="93.80" stroke="#1b1b70" stroke-width="0.8"/>
<line x1="83.50" y1="71.70" x2="83.50" y2="74.70" stroke="#3e78a8" stroke-width="0.8"/>
<line x1="83.50" y1="96.80" x2="83.50" y2="93.80" stroke="#1b1b70" stroke-width="0.8"/>
<line x1="85.50" y1="71.70" x2="85.50" y2="74.70" stroke="#3e78a8" stroke-width="0.8"/>
<line x1="85.50" y1="96.80" x2="85.50" y2="93.80" stroke="#1b1b70" stroke-width="0.8"/>
<line x1="87.50" y1="71.70" x2="87.50" y2="74.70" stroke="#3e78a8" stroke-width="0.8"/>
<line x1="87.50" y1="96.80" x2="87.50" y2="93.80" stroke="#1b1b70" stroke-width="0.8"/>
<line x1="89.50" y1="71.70" x2="89.50" y2="74.70" stroke="#3e78a8" stroke-width="0.8"/>
<line x1="89.50" y1="96.80" x2="89.50" y2="93.80" stroke="#1b1b70" stroke-width="0.8"/>
<line x1="91.50" y1="71.70" x2="91.50" y2="74.70" stroke="#3e78a8" stroke-width="0.8"/>
<line x1="91.50" y1="96.80" x2="91.50" y2="93.80" stroke="#1b1b70" stroke-width="0.8"/>
<line x1="93.50" y1="71.78" x2="92.96" y2="74.74" stroke="#3e78a8" stroke-width="0.8"/>
<line x1="93.50" y1="96.80" x2="93.50" y2="93.80" stroke="#1b1b70" stroke-width="0.8"/>
<line x1="95.50" y1="72.51" x2="94.12" y2="75.17" stroke="#3e78a8" stroke-width="0.8"/>
<line x1="95.50" y1="96.73" x2="95.03" y2="93.76" stroke="#1b1b70" stroke-width="0.8"/>
<line x1="97.50" y1="73.78" x2="95.72" y2="76.19" stroke="#3e78a8" stroke-width="0.8"/>
<line x1="97.50" y1="96.10" x2="96.28" y2="93.37" stroke="#1b1b70" stroke-width="0.8"/>
<line x1="99.50" y1="75.40" x2="97.55" y2="77.68" stroke="#3e78a8" stroke-width="0.8"/>
<line x1="99.50" y1="95.00" x2="97.88" y2="92.48" stroke="#1b1b70" stroke-width="0.8"/>
<line x1="101.50" y1="77.13" x2="99.54" y2="79.41" stroke="#3e78a8" stroke-width="0.8"/>
<line x1="101.50" y1="93.59" x2="99.70" y2="91.19" stroke="#1b1b70" stroke-width="0.8"/>
<line x1="103.50" y1="78.77" x2="101.69" y2="81.16" stroke="#3e78a8" stroke-width="0.8"/>
<line x1="103.50" y1="92.06" x2="101.68" y2="89.68" stroke="#1b1b70" stroke-width="0.8"/>
<line x1="105.50" y1="80.09" x2="104.07" y2="82.72" stroke="#3e78a8" stroke-width="0.8"/>
<line x1="105.50" y1="90.60" x2="103.81" y2="88.12" stroke="#1b1b70" stroke-width="0.8"/>
<line x1="107.50" y1="80.87" x2="106.85" y2="83.80" stroke="#3e78a8" stroke-width="0.8"/>
<line x1="107.50" y1="89.38" x2="106.13" y2="86.72" stroke="#1b1b70" stroke-width="0.8"/>
<polyline fill="none" stroke="#2f6c9c" stroke-width="1.1" stroke-linejoin="round" points="8.20,81.00 8.70,81.00 9.20,81.00 9.70,81.00 10.20,81.00 10.70,81.00 11.20,81.00 11.70,81.00 12.20,81.00 12.70,81.00 13.20,81.00 13.70,81.00 14.20,81.00 14.70,81.00 15.20,81.00 15.70,81.00 16.20,81.00 16.70,81.00 17.20,81.00 17.70,81.00 18.20,81.00 18.70,81.00 19.20,81.00 19.70,81.00 20.20,81.00 20.70,81.00 21.20,81.00 21.70,81.00 22.20,81.00 22.70,81.00 23.20,81.00 23.70,81.00 24.20,81.00 24.70,81.00 25.20,81.00 25.70,81.00 26.20,81.00 26.70,81.00 27.20,81.00 27.70,81.00 28.20,81.00 28.70,81.00 29.20,81.00 29.70,81.00 30.20,81.00 30.70,81.00 31.20,81.00 31.70,81.00 32.20,81.00 32.70,81.00 33.20,81.00 33.70,81.00 34.20,81.00 34.70,81.00 35.20,81.00 35.70,81.00 36.20,81.00 36.70,81.00 37.20,81.00 37.70,81.00 38.20,81.00 38.70,81.00 39.20,81.00 39.70,81.00 40.20,81.00 40.70,81.00 41.20,81.00 41.70,81.00 42.20,81.00 42.70,81.00 43.20,81.00 43.70,81.00 44.20,81.00 44.70,81.00 45.20,81.00 45.70,81.00 46.20,81.00 46.70,81.00 47.20,81.00 47.70,81.00 48.20,80.98 48.70,80.91 49.20,80.79 49.70,80.62 50.20,80.40 50.70,80.15 51.20,79.85 51.70,79.53 52.20,79.18 52.70,78.80 53.20,78.40 53.70,77.98 54.20,77.55 54.70,77.11 55.20,76.66 55.70,76.22 56.20,75.77 56.70,75.32 57.20,74.89 57.70,74.46 58.20,74.06 58.70,73.67 59.20,73.31 59.70,72.97 60.20,72.67 60.70,72.40 61.20,72.17 61.70,71.98 62.20,71.83 62.70,71.74 63.20,71.70 63.70,71.70 64.20,71.70 64.70,71.70 65.20,71.70 65.70,71.70 66.20,71.70 66.70,71.70 67.20,71.70 67.70,71.70 68.20,71.70 68.70,71.70 69.20,71.70 69.70,71.70 70.20,71.70 70.70,71.70 71.20,71.70 71.70,71.70 72.20,71.70 72.70,71.70 73.20,71.70 73.70,71.70 74.20,71.70 74.70,71.70 75.20,71.70 75.70,71.70 76.20,71.70 76.70,71.70 77.20,71.70 77.70,71.70 78.20,71.70 78.70,71.70 79.20,71.70 79.70,71.70 80.20,71.70 80.70,71.70 81.20,71.70 81.70,71.70 82.20,71.70 82.70,71.70 83.20,71.70 83.70,71.70 84.20,71.70 84.70,71.70 85.20,71.70 85.70,71.70 86.20,71.70 86.70,71.70 87.20,71.70 87.70,71.70 88.20,71.70 88.70,71.70 89.20,71.70 89.70,71.70 90.20,71.70 90.70,71.70 91.20,71.70 91.70,71.70 92.20,71.70 92.70,71.70 93.20,71.74 93.70,71.83 94.20,71.96 94.70,72.14 95.20,72.36 95.70,72.61 96.20,72.90 96.70,73.22 97.20,73.56 97.70,73.93 98.20,74.32 98.70,74.72 99.20,75.14 99.70,75.57 100.20,76.00 100.70,76.44 101.20,76.87 101.70,77.30 102.20,77.73 102.70,78.14 103.20,78.54 103.70,78.92 104.20,79.28 104.70,79.61 105.20,79.92 105.70,80.19 106.20,80.44 106.70,80.64 107.20,80.80 107.70,80.92 108.20,80.98 108.70,81.00 109.20,81.00 109.70,81.00 110.20,81.00 110.70,81.00 111.20,81.00 111.70,81.00 112.20,81.00 112.70,81.00 113.20,81.00 113.70,81.00 114.20,81.00 114.70,81.00 115.20,81.00 115.70,81.00 116.20,81.00 116.70,81.00 117.20,81.00 117.70,81.00 118.20,81.00 118.70,81.00 119.20,81.00 119.70,81.00 120.20,81.00 120.70,81.00 121.20,81.00 121.70,81.00 122.20,81.00 122.70,81.00 123.20,81.00 123.70,81.00 124.20,81.00 124.70,81.00 125.20,81.00 125.70,81.00 126.20,81.00 126.70,81.00 127.20,81.00 127.70,81.00 128.20,81.00 128.70,81.00 129.20,81.00 129.70,81.00 130.20,81.00 130.70,81.00 131.20,81.00 131.70,81.00 132.20,81.00 132.70,81.00 133.20,81.00 133.70,81.00 134.20,81.00 134.70,81.00 135.20,81.00 135.70,81.00 136.20,81.00 136.70,81.00 137.20,81.00 137.70,81.00 138.20,81.00 138.70,81.00 139.20,81.00 139.70,81.00 140.20,81.00 140.70,81.00 141.20,81.00 141.70,81.00 142.20,81.00 142.70,81.00 143.20,81.00 143.70,81.00 144.20,81.00 144.70,81.00 145.20,81.00 145.70,81.00 146.20,81.00 146.70,81.00 147.20,81.00 147.70,81.00 148.20,81.00 148.70,81.00 149.20,81.00 149.70,81.00 150.20,81.00 150.70,81.00 151.20,81.00 151.70,81.00 152.20,81.00 152.70,81.00 153.20,81.00 153.70,81.00 154.20,81.00 154.70,81.00 155.20,81.00 155.70,81.00 156.20,81.00 156.70,81.00 157.20,81.00 157.70,81.00 158.20,81.00"/>
<polyline fill="none" stroke="#1b1b70" stroke-width="1.1" stroke-linejoin="round" points="8.20,88.40 8.70,88.40 9.20,88.40 9.70,88.40 10.20,88.40 10.70,88.40 11.20,88.40 11.70,88.40 12.20,88.40 12.70,88.40 13.20,88.40 13.70,88.40 14.20,88.40 14.70,88.40 15.20,88.40 15.70,88.40 16.20,88.40 16.70,88.40 17.20,88.40 17.70,88.40 18.20,88.40 18.70,88.40 19.20,88.40 19.70,88.40 20.20,88.40 20.70,88.40 21.20,88.40 21.70,88.40 22.20,88.40 22.70,88.40 23.20,88.40 23.70,88.40 24.20,88.40 24.70,88.40 25.20,88.40 25.70,88.40 26.20,88.40 26.70,88.40 27.20,88.40 27.70,88.40 28.20,88.40 28.70,88.40 29.20,88.40 29.70,88.40 30.20,88.40 30.70,88.40 31.20,88.40 31.70,88.40 32.20,88.40 32.70,88.40 33.20,88.40 33.70,88.40 34.20,88.40 34.70,88.40 35.20,88.40 35.70,88.40 36.20,88.40 36.70,88.40 37.20,88.40 37.70,88.40 38.20,88.40 38.70,88.40 39.20,88.40 39.70,88.40 40.20,88.40 40.70,88.40 41.20,88.40 41.70,88.40 42.20,88.40 42.70,88.40 43.20,88.40 43.70,88.40 44.20,88.40 44.70,88.40 45.20,88.40 45.70,88.40 46.20,88.40 46.70,88.40 47.20,88.43 47.70,88.50 48.20,88.60 48.70,88.74 49.20,88.91 49.70,89.10 50.20,89.33 50.70,89.58 51.20,89.85 51.70,90.14 52.20,90.45 52.70,90.77 53.20,91.11 53.70,91.45 54.20,91.81 54.70,92.17 55.20,92.53 55.70,92.89 56.20,93.25 56.70,93.61 57.20,93.95 57.70,94.29 58.20,94.62 58.70,94.94 59.20,95.23 59.70,95.51 60.20,95.77 60.70,96.01 61.20,96.22 61.70,96.40 62.20,96.55 62.70,96.67 63.20,96.75 63.70,96.79 64.20,96.80 64.70,96.80 65.20,96.80 65.70,96.80 66.20,96.80 66.70,96.80 67.20,96.80 67.70,96.80 68.20,96.80 68.70,96.80 69.20,96.80 69.70,96.80 70.20,96.80 70.70,96.80 71.20,96.80 71.70,96.80 72.20,96.80 72.70,96.80 73.20,96.80 73.70,96.80 74.20,96.80 74.70,96.80 75.20,96.80 75.70,96.80 76.20,96.80 76.70,96.80 77.20,96.80 77.70,96.80 78.20,96.80 78.70,96.80 79.20,96.80 79.70,96.80 80.20,96.80 80.70,96.80 81.20,96.80 81.70,96.80 82.20,96.80 82.70,96.80 83.20,96.80 83.70,96.80 84.20,96.80 84.70,96.80 85.20,96.80 85.70,96.80 86.20,96.80 86.70,96.80 87.20,96.80 87.70,96.80 88.20,96.80 88.70,96.80 89.20,96.80 89.70,96.80 90.20,96.80 90.70,96.80 91.20,96.80 91.70,96.80 92.20,96.80 92.70,96.80 93.20,96.80 93.70,96.80 94.20,96.80 94.70,96.80 95.20,96.77 95.70,96.69 96.20,96.58 96.70,96.42 97.20,96.23 97.70,96.01 98.20,95.76 98.70,95.49 99.20,95.19 99.70,94.87 100.20,94.53 100.70,94.18 101.20,93.81 101.70,93.44 102.20,93.06 102.70,92.68 103.20,92.29 103.70,91.91 104.20,91.53 104.70,91.17 105.20,90.81 105.70,90.46 106.20,90.14 106.70,89.83 107.20,89.54 107.70,89.28 108.20,89.05 108.70,88.85 109.20,88.68 109.70,88.55 110.20,88.46 110.70,88.41 111.20,88.40 111.70,88.40 112.20,88.40 112.70,88.40 113.20,88.40 113.70,88.40 114.20,88.40 114.70,88.40 115.20,88.40 115.70,88.40 116.20,88.40 116.70,88.40 117.20,88.40 117.70,88.40 118.20,88.40 118.70,88.40 119.20,88.40 119.70,88.40 120.20,88.40 120.70,88.40 121.20,88.40 121.70,88.40 122.20,88.40 122.70,88.40 123.20,88.40 123.70,88.40 124.20,88.40 124.70,88.40 125.20,88.40 125.70,88.40 126.20,88.40 126.70,88.40 127.20,88.40 127.70,88.40 128.20,88.40 128.70,88.40 129.20,88.40 129.70,88.40 130.20,88.40 130.70,88.40 131.20,88.40 131.70,88.40 132.20,88.40 132.70,88.40 133.20,88.40 133.70,88.40 134.20,88.40 134.70,88.40 135.20,88.40 135.70,88.40 136.20,88.40 136.70,88.40 137.20,88.40 137.70,88.40 138.20,88.40 138.70,88.40 139.20,88.40 139.70,88.40 140.20,88.40 140.70,88.40 141.20,88.40 141.70,88.40 142.20,88.40 142.70,88.40 143.20,88.40 143.70,88.40 144.20,88.40 144.70,88.40 145.20,88.40 145.70,88.40 146.20,88.40 146.70,88.40 147.20,88.40 147.70,88.40 148.20,88.40 148.70,88.40 149.20,88.40 149.70,88.40 150.20,88.40 150.70,88.40 151.20,88.40 151.70,88.40 152.20,88.40 152.70,88.40 153.20,88.40 153.70,88.40 154.20,88.40 154.70,88.40 155.20,88.40 155.70,88.40 156.20,88.40 156.70,88.40 157.20,88.40 157.70,88.40 158.20,88.40"/>
<line x1="67.50" y1="79.60" x2="67.50" y2="75.00" stroke="#f24a4a" stroke-width="0.85"/>
<line x1="69.50" y1="79.60" x2="69.50" y2="75.00" stroke="#f24a4a" stroke-width="0.85"/>
<line x1="71.50" y1="79.60" x2="71.50" y2="75.00" stroke="#f24a4a" stroke-width="0.85"/>
<line x1="73.50" y1="79.60" x2="73.50" y2="75.00" stroke="#f24a4a" stroke-width="0.85"/>
<line x1="75.50" y1="79.60" x2="75.50" y2="75.00" stroke="#f24a4a" stroke-width="0.85"/>
<line x1="77.50" y1="79.60" x2="77.50" y2="75.00" stroke="#f24a4a" stroke-width="0.85"/>
<line x1="79.50" y1="79.60" x2="79.50" y2="75.00" stroke="#f24a4a" stroke-width="0.85"/>
<line x1="81.50" y1="79.60" x2="81.50" y2="75.00" stroke="#f24a4a" stroke-width="0.85"/>
<line x1="83.50" y1="79.60" x2="83.50" y2="75.00" stroke="#f24a4a" stroke-width="0.85"/>
<line x1="85.50" y1="79.60" x2="85.50" y2="75.00" stroke="#f24a4a" stroke-width="0.85"/>
<line x1="87.50" y1="79.60" x2="87.50" y2="75.00" stroke="#f24a4a" stroke-width="0.85"/>
<line x1="89.50" y1="79.60" x2="89.50" y2="75.00" stroke="#f24a4a" stroke-width="0.85"/>
<line x1="66.00" y1="79.70" x2="92.00" y2="79.70" stroke="#f01414" stroke-width="1.0"/>
<line x1="95.80" y1="43.70" x2="103.20" y2="43.70" stroke="#e25a5a" stroke-width="0.6"/>
<line x1="95.80" y1="45.90" x2="103.20" y2="45.90" stroke="#e25a5a" stroke-width="0.6"/>
<line x1="95.80" y1="47.80" x2="103.20" y2="47.80" stroke="#e25a5a" stroke-width="0.6"/>
<line x1="95.80" y1="49.80" x2="103.20" y2="49.80" stroke="#e25a5a" stroke-width="0.6"/>
<line x1="95.80" y1="52.30" x2="103.20" y2="52.30" stroke="#808080" stroke-width="0.6"/>
<line x1="95.80" y1="54.94" x2="103.20" y2="54.94" stroke="#808080" stroke-width="0.6"/>
<line x1="95.80" y1="57.58" x2="103.20" y2="57.58" stroke="#808080" stroke-width="0.6"/>
<line x1="95.80" y1="60.22" x2="103.20" y2="60.22" stroke="#808080" stroke-width="0.6"/>
<line x1="95.80" y1="62.86" x2="103.20" y2="62.86" stroke="#808080" stroke-width="0.6"/>
<line x1="95.80" y1="65.50" x2="103.20" y2="65.50" stroke="#808080" stroke-width="0.6"/>
<line x1="95.80" y1="68.14" x2="103.20" y2="68.14" stroke="#808080" stroke-width="0.6"/>
<line x1="110.50" y1="45.90" x2="118.00" y2="45.90" stroke="#e25a5a" stroke-width="0.6"/>
<line x1="110.50" y1="47.80" x2="118.00" y2="47.80" stroke="#e25a5a" stroke-width="0.6"/>
<line x1="110.50" y1="49.80" x2="118.00" y2="49.80" stroke="#e25a5a" stroke-width="0.6"/>
<line x1="110.50" y1="51.70" x2="118.00" y2="51.70" stroke="#e25a5a" stroke-width="0.6"/>
<line x1="110.50" y1="54.40" x2="118.00" y2="54.40" stroke="#808080" stroke-width="0.6"/>
<line x1="110.50" y1="57.04" x2="118.00" y2="57.04" stroke="#808080" stroke-width="0.6"/>
<line x1="110.50" y1="59.68" x2="118.00" y2="59.68" stroke="#808080" stroke-width="0.6"/>
<line x1="110.50" y1="62.32" x2="118.00" y2="62.32" stroke="#808080" stroke-width="0.6"/>
<line x1="110.50" y1="64.96" x2="118.00" y2="64.96" stroke="#808080" stroke-width="0.6"/>
<line x1="110.50" y1="67.60" x2="118.00" y2="67.60" stroke="#808080" stroke-width="0.6"/>
<line x1="126.00" y1="63.40" x2="132.60" y2="63.40" stroke="#808080" stroke-width="0.6"/>
<line x1="126.00" y1="65.60" x2="132.60" y2="65.60" stroke="#808080" stroke-width="0.6"/>
<line x1="126.00" y1="67.80" x2="132.60" y2="67.80" stroke="#808080" stroke-width="0.6"/>
<line x1="126.00" y1="70.00" x2="132.60" y2="70.00" stroke="#808080" stroke-width="0.6"/>
<path d="M92 79.7 C95 79.7 95.8 77.5 95.8 75 V39.8 A3.7 3.7 0 0 1 103.2 39.8 V70.8 A3.65 3.65 0 0 0 110.5 70.8 V42.3 A3.75 3.75 0 0 1 118 42.3 V70.8 A4 4 0 0 0 126 70.8 V63.8 A3.3 3.3 0 0 1 132.6 63.8 V71 C132.6 73.5 134.5 74.6 138 74.6" fill="none" stroke="#4a4a4a" stroke-width="0.95"/>
<path d="M95.8 51.5 V39.8 A3.7 3.7 0 0 1 103.2 39.8 V51.5" fill="none" stroke="#c8201e" stroke-width="1.05"/>
<path d="M110.5 52.5 V42.3 A3.75 3.75 0 0 1 118 42.3 V52.5" fill="none" stroke="#c8201e" stroke-width="1.05"/>
<path d="M92.4 39.8 C91.2 36 93.6 32.4 99.4 32.0 C104.4 31.8 106 35.6 104.8 39.4 C103.8 40.6 102.6 38.6 102 37 C100.8 35 98 35 96.8 37 C96 38.6 94.4 40.8 92.4 39.8Z" fill="#f3a06e" stroke="none" stroke-width="1"/>
<rect x="86.00" y="30.20" width="8.80" height="6.40" rx="1.98" fill="#e87c7c" transform="rotate(38 90.4 33.4)"/>
<rect x="82.60" y="26.80" width="5.80" height="7.20" rx="1.80" fill="#e3bf4c" transform="rotate(30 85.5 30.4)"/>
<rect x="98.90" y="25.00" width="7.00" height="8.60" rx="2.17" fill="#e87c7c" transform="rotate(10 102.4 29.3)"/>
<rect x="99.90" y="21.20" width="7.40" height="5.00" rx="1.55" fill="#e3bf4c" transform="rotate(10 103.6 23.7)"/>
<path d="M109.6 39.2 C108.8 35.4 111.4 33.4 114.6 34.0 C118.8 34.8 121.2 37.6 121.8 41.6 C121.8 44.6 119.6 44.4 119 41 C117.8 37.6 113 37.4 112 39.6 C111.2 40.8 110 40.8 109.6 39.2Z" fill="#f3a06e" stroke="none" stroke-width="1"/>
<rect x="109.90" y="27.00" width="6.20" height="7.40" rx="1.92" fill="#e87c7c" transform="rotate(-6 113.0 30.7)"/>
<rect x="109.20" y="23.30" width="7.20" height="5.20" rx="1.61" fill="#e3bf4c" transform="rotate(-6 112.8 25.9)"/>
<rect x="120.60" y="35.00" width="8.00" height="6.40" rx="1.98" fill="#e87c7c" transform="rotate(-16 124.6 38.2)"/>
<rect x="126.50" y="33.40" width="6.20" height="6.80" rx="1.92" fill="#e3bf4c" transform="rotate(-16 129.6 36.8)"/>
<line x1="83.30" y1="45.50" x2="95.40" y2="45.50" stroke="#262626" stroke-width="0.6"/>
<path d="M124.2 17.7 H120.6 L114.6 25.2" fill="none" stroke="#262626" stroke-width="0.6"/>
<path d="M124.2 23.4 H120.6 L114.6 30.4" fill="none" stroke="#262626" stroke-width="0.6"/>
<path d="M124.2 28.7 H120.6 L114.8 35.8" fill="none" stroke="#262626" stroke-width="0.6"/>
<path d="M137.4 15.8 H139.6 V30.6 H137.4 M139.6 22.9 H141.4" fill="none" stroke="#262626" stroke-width="0.6"/>
<text x="125.40" y="19.10" font-size="3.9" transform="rotate(0.04 125.40 19.10)" fill="#262626" textLength="9.2" lengthAdjust="spacingAndGlyphs">HSF1</text>
<text x="125.40" y="24.70" font-size="3.9" transform="rotate(0.04 125.40 24.70)" fill="#262626" textLength="6.8" lengthAdjust="spacingAndGlyphs">p65</text>
<text x="125.40" y="30.30" font-size="3.9" transform="rotate(0.04 125.40 30.30)" fill="#262626" textLength="8.2" lengthAdjust="spacingAndGlyphs">MS2</text>
<text x="143.50" y="24.20" font-size="3.9" transform="rotate(0.04 143.50 24.20)" fill="#262626" textLength="23.6" lengthAdjust="spacingAndGlyphs">MPH complex</text>
<text x="81.60" y="46.70" font-size="3.9" text-anchor="end" transform="rotate(0.04 81.60 46.70)" fill="#262626" textLength="28.0" lengthAdjust="spacingAndGlyphs">MS2 stem-loop</text>
<text x="8.40" y="78.96" font-size="3.8" transform="rotate(0.04 8.40 78.96)" fill="#262626" textLength="20.6" lengthAdjust="spacingAndGlyphs">Target DNA</text>
<text x="79.30" y="86.00" font-size="3.9" text-anchor="middle" transform="rotate(0.04 79.30 86.00)" fill="#f01414" textLength="11.6" lengthAdjust="spacingAndGlyphs">sgRNA</text>
<text x="84.20" y="106.06" font-size="3.8" text-anchor="middle" transform="rotate(0.04 84.20 106.06)" fill="#262626" textLength="11.8" lengthAdjust="spacingAndGlyphs">dCas9</text>
<path d="M130.6 112 C135.5 110.5 138 106 137.9 100.2" fill="none" stroke="#3d8583" stroke-width="1.1"/>
<circle cx="117.60" cy="110.20" r="10.5" fill="#5c9d9c" stroke="none" stroke-width="1"/>
<circle cx="110.00" cy="107.00" r="5.2" fill="#5c9d9c" stroke="none" stroke-width="1"/>
<circle cx="113.00" cy="102.20" r="5.0" fill="#5c9d9c" stroke="none" stroke-width="1"/>
<circle cx="119.00" cy="100.60" r="5.2" fill="#5c9d9c" stroke="none" stroke-width="1"/>
<circle cx="124.60" cy="103.60" r="5.0" fill="#5c9d9c" stroke="none" stroke-width="1"/>
<circle cx="127.20" cy="109.40" r="4.6" fill="#5c9d9c" stroke="none" stroke-width="1"/>
<circle cx="125.40" cy="115.60" r="4.8" fill="#5c9d9c" stroke="none" stroke-width="1"/>
<circle cx="120.40" cy="119.00" r="4.6" fill="#5c9d9c" stroke="none" stroke-width="1"/>
<circle cx="114.20" cy="118.60" r="5.0" fill="#5c9d9c" stroke="none" stroke-width="1"/>
<circle cx="109.40" cy="113.60" r="4.8" fill="#5c9d9c" stroke="none" stroke-width="1"/>
<circle cx="113.50" cy="106.50" r="3.2" fill="#6aa8a6" stroke="none" stroke-width="1"/>
<circle cx="121.50" cy="113.50" r="3.4" fill="#6aa8a6" stroke="none" stroke-width="1"/>
<circle cx="122.00" cy="105.00" r="2.6" fill="#6aa8a6" stroke="none" stroke-width="1"/>
<circle cx="114.50" cy="115.00" r="2.8" fill="#6aa8a6" stroke="none" stroke-width="1"/>
<text x="117.80" y="112.06" font-size="5.2" font-weight="bold" text-anchor="middle" transform="rotate(0.04 117.80 112.06)" fill="#ffffff" textLength="11.6" lengthAdjust="spacingAndGlyphs">VP64</text>
<rect x="158.30" y="79.00" width="37.30" height="11.70" fill="#3c6fc0" stroke="none" stroke-width="1"/>
<text x="177.00" y="86.65" font-size="4.6" font-weight="bold" text-anchor="middle" transform="rotate(0.04 177.00 86.65)" fill="#ffffff" textLength="14.6" lengthAdjust="spacingAndGlyphs">EDNRB</text>
<path d="M164.5 79.2 V69.9 H186.2" fill="none" stroke="#2a72c8" stroke-width="1.15"/>
<path d="M185.4 67.4 L190.2 70.0 L185.4 72.6Z" fill="#2f77cc" stroke="none" stroke-width="1"/>
<path d="M137.2 37.8 C151 39.5 161.5 47 164.8 56.2" fill="none" stroke="#9c5f2e" stroke-width="0.85"/>
<path d="M163.4 55.6 L166.4 55.0 L165.7 58.3Z" fill="#9c5f2e" stroke="none" stroke-width="1"/>
<path d="M139.8 119.0 C151 117.5 160 110.5 164.8 100.8" fill="none" stroke="#9c5f2e" stroke-width="0.85"/>
<path d="M163.4 101.3 L166.2 98.9 L166.5 102.3Z" fill="#9c5f2e" stroke="none" stroke-width="1"/>
</g>
</svg>
</body></html>
